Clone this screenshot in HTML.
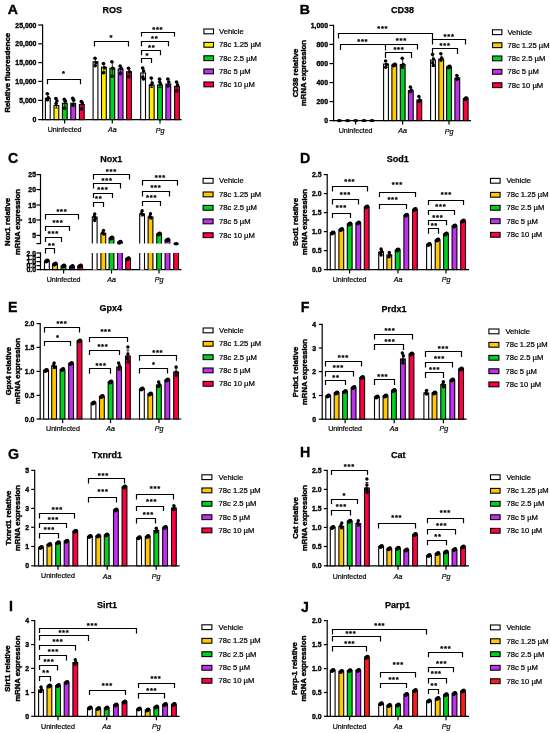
<!DOCTYPE html>
<html lang="en"><head><meta charset="utf-8"><title>Figure</title>
<style>
html,body{margin:0;padding:0;background:#fff;}
body{width:550px;height:733px;overflow:hidden;}
svg{display:block;font-family:'Liberation Sans', Arial, Helvetica, sans-serif;}
svg text{fill:#000;}
</style></head><body>
<svg width="550" height="733" viewBox="0 0 550 733">
<rect x="0" y="0" width="550" height="733" fill="#fff"/>
<text transform="translate(7.7 13.9) scale(1.1 1)" font-size="12.8" font-weight="bold" stroke="#000" stroke-width="0.4">A</text>
<text x="112.3" y="12.5" font-size="9.0" font-weight="bold" text-anchor="middle" stroke="#000" stroke-width="0.25">ROS</text>
<line x1="42.6" y1="24.4" x2="42.6" y2="120.2" stroke="#000" stroke-width="1.2"/>
<line x1="38.2" y1="25" x2="42.6" y2="25" stroke="#000" stroke-width="1.2"/>
<text x="36.4" y="27.5" font-size="6.9" font-weight="bold" text-anchor="end" stroke="#000" stroke-width="0.35">25,000</text>
<line x1="38.2" y1="43.8" x2="42.6" y2="43.8" stroke="#000" stroke-width="1.2"/>
<text x="36.4" y="46.3" font-size="6.9" font-weight="bold" text-anchor="end" stroke="#000" stroke-width="0.35">20,000</text>
<line x1="38.2" y1="62.6" x2="42.6" y2="62.6" stroke="#000" stroke-width="1.2"/>
<text x="36.4" y="65.1" font-size="6.9" font-weight="bold" text-anchor="end" stroke="#000" stroke-width="0.35">15,000</text>
<line x1="38.2" y1="81.4" x2="42.6" y2="81.4" stroke="#000" stroke-width="1.2"/>
<text x="36.4" y="83.9" font-size="6.9" font-weight="bold" text-anchor="end" stroke="#000" stroke-width="0.35">10,000</text>
<line x1="38.2" y1="100.4" x2="42.6" y2="100.4" stroke="#000" stroke-width="1.2"/>
<text x="36.4" y="102.9" font-size="6.9" font-weight="bold" text-anchor="end" stroke="#000" stroke-width="0.35">5,000</text>
<line x1="38.2" y1="119.6" x2="42.6" y2="119.6" stroke="#000" stroke-width="1.2"/>
<text x="36.4" y="122.1" font-size="6.9" font-weight="bold" text-anchor="end" stroke="#000" stroke-width="0.35">0</text>
<text x="10.1" y="72.8" font-size="7.7" font-weight="bold" text-anchor="middle" transform="rotate(-90 10.1 72.8)" stroke="#000" stroke-width="0.4">Relative fluoresdence</text>
<line x1="42" y1="119.6" x2="181.6" y2="119.6" stroke="#000" stroke-width="1.2"/>
<line x1="64.6" y1="119.6" x2="64.6" y2="123.6" stroke="#000" stroke-width="1.2"/>
<line x1="112.3" y1="119.6" x2="112.3" y2="123.6" stroke="#000" stroke-width="1.2"/>
<line x1="160" y1="119.6" x2="160" y2="123.6" stroke="#000" stroke-width="1.2"/>
<rect x="45.4" y="98.2" width="4.8" height="21.4" fill="#ffffff" stroke="#000" stroke-width="1.1"/>
<rect x="54" y="105.5" width="4.8" height="14.1" fill="#fff000" stroke="#000" stroke-width="1.1"/>
<rect x="62.4" y="103.3" width="4.8" height="16.3" fill="#00d020" stroke="#000" stroke-width="1.1"/>
<rect x="70.8" y="103.3" width="4.8" height="16.3" fill="#c030f0" stroke="#000" stroke-width="1.1"/>
<rect x="79.4" y="104.5" width="4.8" height="15.1" fill="#ff0040" stroke="#000" stroke-width="1.1"/>
<rect x="93.1" y="61.8" width="4.8" height="57.8" fill="#ffffff" stroke="#000" stroke-width="1.1"/>
<rect x="101.5" y="67.3" width="4.8" height="52.3" fill="#fff000" stroke="#000" stroke-width="1.1"/>
<rect x="109.9" y="68.2" width="4.8" height="51.4" fill="#00d020" stroke="#000" stroke-width="1.1"/>
<rect x="118.2" y="69" width="4.8" height="50.6" fill="#c030f0" stroke="#000" stroke-width="1.1"/>
<rect x="126.6" y="71.8" width="4.8" height="47.8" fill="#ff0040" stroke="#000" stroke-width="1.1"/>
<rect x="140.7" y="73" width="4.8" height="46.6" fill="#ffffff" stroke="#000" stroke-width="1.1"/>
<rect x="149.3" y="85" width="4.8" height="34.6" fill="#fff000" stroke="#000" stroke-width="1.1"/>
<rect x="157.6" y="85" width="4.8" height="34.6" fill="#00d020" stroke="#000" stroke-width="1.1"/>
<rect x="165.9" y="84" width="4.8" height="35.6" fill="#c030f0" stroke="#000" stroke-width="1.1"/>
<rect x="174.6" y="86.4" width="4.8" height="33.2" fill="#ff0040" stroke="#000" stroke-width="1.1"/>
<line x1="47.8" y1="94.3" x2="47.8" y2="100.7" stroke="#000" stroke-width="0.8"/>
<line x1="46.3" y1="94.3" x2="49.3" y2="94.3" stroke="#000" stroke-width="0.8"/>
<line x1="46.3" y1="100.7" x2="49.3" y2="100.7" stroke="#000" stroke-width="0.8"/>
<circle cx="47.3" cy="93.8" r="1.8" fill="#000"/>
<circle cx="48.3" cy="97.8" r="1.8" fill="#000"/>
<circle cx="47.5" cy="99.7" r="1.8" fill="#000"/>
<line x1="56.4" y1="99" x2="56.4" y2="108" stroke="#000" stroke-width="0.8"/>
<line x1="54.9" y1="99" x2="57.9" y2="99" stroke="#000" stroke-width="0.8"/>
<line x1="54.9" y1="108" x2="57.9" y2="108" stroke="#000" stroke-width="0.8"/>
<circle cx="55.9" cy="98.5" r="1.8" fill="#000"/>
<circle cx="56.9" cy="101" r="1.8" fill="#000"/>
<circle cx="56.1" cy="103.5" r="1.8" fill="#000"/>
<line x1="64.8" y1="99.8" x2="64.8" y2="107.8" stroke="#000" stroke-width="0.8"/>
<line x1="63.3" y1="99.8" x2="66.3" y2="99.8" stroke="#000" stroke-width="0.8"/>
<line x1="63.3" y1="107.8" x2="66.3" y2="107.8" stroke="#000" stroke-width="0.8"/>
<circle cx="64.3" cy="99.3" r="1.8" fill="#000"/>
<circle cx="65.3" cy="101.3" r="1.8" fill="#000"/>
<circle cx="64.5" cy="108.3" r="1.8" fill="#000"/>
<line x1="73.2" y1="98.8" x2="73.2" y2="105.8" stroke="#000" stroke-width="0.8"/>
<line x1="71.7" y1="98.8" x2="74.7" y2="98.8" stroke="#000" stroke-width="0.8"/>
<line x1="71.7" y1="105.8" x2="74.7" y2="105.8" stroke="#000" stroke-width="0.8"/>
<circle cx="72.7" cy="98.3" r="1.8" fill="#000"/>
<circle cx="73.7" cy="100.3" r="1.8" fill="#000"/>
<circle cx="72.9" cy="105.3" r="1.8" fill="#000"/>
<line x1="81.8" y1="102" x2="81.8" y2="108.5" stroke="#000" stroke-width="0.8"/>
<line x1="80.3" y1="102" x2="83.3" y2="102" stroke="#000" stroke-width="0.8"/>
<line x1="80.3" y1="108.5" x2="83.3" y2="108.5" stroke="#000" stroke-width="0.8"/>
<circle cx="81.3" cy="101.5" r="1.8" fill="#000"/>
<circle cx="82.3" cy="103" r="1.8" fill="#000"/>
<circle cx="81.5" cy="109" r="1.8" fill="#000"/>
<line x1="95.5" y1="58.7" x2="95.5" y2="65.3" stroke="#000" stroke-width="0.8"/>
<line x1="94" y1="58.7" x2="97" y2="58.7" stroke="#000" stroke-width="0.8"/>
<line x1="94" y1="65.3" x2="97" y2="65.3" stroke="#000" stroke-width="0.8"/>
<circle cx="95" cy="58.2" r="1.8" fill="#000"/>
<circle cx="96" cy="62.8" r="1.8" fill="#000"/>
<circle cx="95.2" cy="65.8" r="1.8" fill="#000"/>
<line x1="103.9" y1="64.1" x2="103.9" y2="72.2" stroke="#000" stroke-width="0.8"/>
<line x1="102.4" y1="64.1" x2="105.4" y2="64.1" stroke="#000" stroke-width="0.8"/>
<line x1="102.4" y1="72.2" x2="105.4" y2="72.2" stroke="#000" stroke-width="0.8"/>
<circle cx="103.4" cy="63.6" r="1.8" fill="#000"/>
<circle cx="104.4" cy="67.8" r="1.8" fill="#000"/>
<circle cx="103.6" cy="72.7" r="1.8" fill="#000"/>
<line x1="112.3" y1="62.3" x2="112.3" y2="75.7" stroke="#000" stroke-width="0.8"/>
<line x1="110.8" y1="62.3" x2="113.8" y2="62.3" stroke="#000" stroke-width="0.8"/>
<line x1="110.8" y1="75.7" x2="113.8" y2="75.7" stroke="#000" stroke-width="0.8"/>
<circle cx="111.8" cy="61.8" r="1.8" fill="#000"/>
<circle cx="112.8" cy="68.2" r="1.8" fill="#000"/>
<circle cx="112" cy="76.2" r="1.8" fill="#000"/>
<line x1="120.6" y1="66.5" x2="120.6" y2="73.1" stroke="#000" stroke-width="0.8"/>
<line x1="119.1" y1="66.5" x2="122.1" y2="66.5" stroke="#000" stroke-width="0.8"/>
<line x1="119.1" y1="73.1" x2="122.1" y2="73.1" stroke="#000" stroke-width="0.8"/>
<circle cx="120.1" cy="66" r="1.8" fill="#000"/>
<circle cx="121.1" cy="68.2" r="1.8" fill="#000"/>
<circle cx="120.3" cy="73.6" r="1.8" fill="#000"/>
<line x1="129" y1="68.7" x2="129" y2="76.3" stroke="#000" stroke-width="0.8"/>
<line x1="127.5" y1="68.7" x2="130.5" y2="68.7" stroke="#000" stroke-width="0.8"/>
<line x1="127.5" y1="76.3" x2="130.5" y2="76.3" stroke="#000" stroke-width="0.8"/>
<circle cx="128.5" cy="68.2" r="1.8" fill="#000"/>
<circle cx="129.5" cy="71.8" r="1.8" fill="#000"/>
<circle cx="128.7" cy="76.8" r="1.8" fill="#000"/>
<line x1="143.1" y1="68.5" x2="143.1" y2="78.5" stroke="#000" stroke-width="0.8"/>
<line x1="141.6" y1="68.5" x2="144.6" y2="68.5" stroke="#000" stroke-width="0.8"/>
<line x1="141.6" y1="78.5" x2="144.6" y2="78.5" stroke="#000" stroke-width="0.8"/>
<circle cx="142.6" cy="68" r="1.8" fill="#000"/>
<circle cx="143.6" cy="71" r="1.8" fill="#000"/>
<circle cx="142.8" cy="77" r="1.8" fill="#000"/>
<circle cx="143.5" cy="79" r="1.8" fill="#000"/>
<line x1="151.7" y1="78.5" x2="151.7" y2="87.5" stroke="#000" stroke-width="0.8"/>
<line x1="150.2" y1="78.5" x2="153.2" y2="78.5" stroke="#000" stroke-width="0.8"/>
<line x1="150.2" y1="87.5" x2="153.2" y2="87.5" stroke="#000" stroke-width="0.8"/>
<circle cx="151.2" cy="78" r="1.8" fill="#000"/>
<circle cx="152.2" cy="83" r="1.8" fill="#000"/>
<circle cx="151.4" cy="85" r="1.8" fill="#000"/>
<line x1="160" y1="79.5" x2="160" y2="87.5" stroke="#000" stroke-width="0.8"/>
<line x1="158.5" y1="79.5" x2="161.5" y2="79.5" stroke="#000" stroke-width="0.8"/>
<line x1="158.5" y1="87.5" x2="161.5" y2="87.5" stroke="#000" stroke-width="0.8"/>
<circle cx="159.5" cy="79" r="1.8" fill="#000"/>
<circle cx="160.5" cy="84" r="1.8" fill="#000"/>
<circle cx="159.7" cy="82" r="1.8" fill="#000"/>
<line x1="168.3" y1="79.5" x2="168.3" y2="86.5" stroke="#000" stroke-width="0.8"/>
<line x1="166.8" y1="79.5" x2="169.8" y2="79.5" stroke="#000" stroke-width="0.8"/>
<line x1="166.8" y1="86.5" x2="169.8" y2="86.5" stroke="#000" stroke-width="0.8"/>
<circle cx="167.8" cy="79" r="1.8" fill="#000"/>
<circle cx="168.8" cy="82" r="1.8" fill="#000"/>
<circle cx="168" cy="86" r="1.8" fill="#000"/>
<line x1="177" y1="82.5" x2="177" y2="90.5" stroke="#000" stroke-width="0.8"/>
<line x1="175.5" y1="82.5" x2="178.5" y2="82.5" stroke="#000" stroke-width="0.8"/>
<line x1="175.5" y1="90.5" x2="178.5" y2="90.5" stroke="#000" stroke-width="0.8"/>
<circle cx="176.5" cy="82" r="1.8" fill="#000"/>
<circle cx="177.5" cy="85" r="1.8" fill="#000"/>
<circle cx="176.7" cy="91" r="1.8" fill="#000"/>
<path d="M47.5 84.2V79.5H80.5V84.2" stroke="#000" stroke-width="1.2" fill="none"/>
<text x="63.98" y="76.42" font-size="7.6" font-weight="bold" text-anchor="middle" stroke="#000" stroke-width="0.25" letter-spacing="0.75">*</text>
<path d="M94.5 46.6V41.5H128.5V46.6" stroke="#000" stroke-width="1.2" fill="none"/>
<text x="111.38" y="40.42" font-size="7.6" font-weight="bold" text-anchor="middle" stroke="#000" stroke-width="0.25" letter-spacing="0.75">*</text>
<path d="M141.5 36.6V32.5H174.5V36.6" stroke="#000" stroke-width="1.2" fill="none"/>
<text x="157.78" y="31.82" font-size="7.6" font-weight="bold" text-anchor="middle" stroke="#000" stroke-width="0.25" letter-spacing="0.75">***</text>
<path d="M141.5 46.2V41.5H168.5V46.2" stroke="#000" stroke-width="1.2" fill="none"/>
<text x="154.78" y="40.62" font-size="7.6" font-weight="bold" text-anchor="middle" stroke="#000" stroke-width="0.25" letter-spacing="0.75">**</text>
<path d="M141.5 55.2V50.5H160.5V55.2" stroke="#000" stroke-width="1.2" fill="none"/>
<text x="151.78" y="49.82" font-size="7.6" font-weight="bold" text-anchor="middle" stroke="#000" stroke-width="0.25" letter-spacing="0.75">**</text>
<path d="M141.5 63V58.5H151.5V63" stroke="#000" stroke-width="1.2" fill="none"/>
<text x="147.38" y="58.22" font-size="7.6" font-weight="bold" text-anchor="middle" stroke="#000" stroke-width="0.25" letter-spacing="0.75">*</text>
<text x="64.6" y="132.1" font-size="7.1" text-anchor="middle" stroke="#000" stroke-width="0.2">Uninfected</text>
<text x="112.3" y="132.3" font-size="7.1" font-style="italic" text-anchor="middle" stroke="#000" stroke-width="0.2">Aa</text>
<text x="160" y="132.5" font-size="7.1" font-style="italic" text-anchor="middle" stroke="#000" stroke-width="0.2">Pg</text>
<rect x="203.9" y="29" width="9.6" height="4.8" fill="#ffffff" stroke="#000" stroke-width="1.1"/>
<text x="219" y="34.05" font-size="7.65" stroke="#000" stroke-width="0.22">Vehicle</text>
<rect x="203.9" y="42.4" width="9.6" height="4.8" fill="#fff000" stroke="#000" stroke-width="1.1"/>
<text x="219" y="47.45" font-size="7.65" stroke="#000" stroke-width="0.22">78c 1.25 µM</text>
<rect x="203.9" y="55.8" width="9.6" height="4.8" fill="#00d020" stroke="#000" stroke-width="1.1"/>
<text x="219" y="60.85" font-size="7.65" stroke="#000" stroke-width="0.22">78c 2.5 µM</text>
<rect x="203.9" y="69" width="9.6" height="4.8" fill="#c030f0" stroke="#000" stroke-width="1.1"/>
<text x="219" y="74.05" font-size="7.65" stroke="#000" stroke-width="0.22">78c 5 µM</text>
<rect x="203.9" y="82" width="9.6" height="4.8" fill="#ff0040" stroke="#000" stroke-width="1.1"/>
<text x="219" y="87.05" font-size="7.65" stroke="#000" stroke-width="0.22">78c 10 µM</text>
<text transform="translate(299.7 13.9) scale(1.1 1)" font-size="12.8" font-weight="bold" stroke="#000" stroke-width="0.4">B</text>
<text x="402.5" y="12.5" font-size="9.0" font-weight="bold" text-anchor="middle" stroke="#000" stroke-width="0.25">CD38</text>
<line x1="333.6" y1="24.8" x2="333.6" y2="121.2" stroke="#000" stroke-width="1.2"/>
<line x1="329.4" y1="25.4" x2="333.6" y2="25.4" stroke="#000" stroke-width="1.2"/>
<text x="328" y="27.9" font-size="6.9" font-weight="bold" text-anchor="end" stroke="#000" stroke-width="0.35">1,000</text>
<line x1="329.4" y1="44.4" x2="333.6" y2="44.4" stroke="#000" stroke-width="1.2"/>
<text x="328" y="46.9" font-size="6.9" font-weight="bold" text-anchor="end" stroke="#000" stroke-width="0.35">800</text>
<line x1="329.4" y1="63.6" x2="333.6" y2="63.6" stroke="#000" stroke-width="1.2"/>
<text x="328" y="66.1" font-size="6.9" font-weight="bold" text-anchor="end" stroke="#000" stroke-width="0.35">600</text>
<line x1="329.4" y1="82.6" x2="333.6" y2="82.6" stroke="#000" stroke-width="1.2"/>
<text x="328" y="85.1" font-size="6.9" font-weight="bold" text-anchor="end" stroke="#000" stroke-width="0.35">400</text>
<line x1="329.4" y1="101.6" x2="333.6" y2="101.6" stroke="#000" stroke-width="1.2"/>
<text x="328" y="104.1" font-size="6.9" font-weight="bold" text-anchor="end" stroke="#000" stroke-width="0.35">200</text>
<line x1="329.4" y1="120.6" x2="333.6" y2="120.6" stroke="#000" stroke-width="1.2"/>
<text x="328" y="123.1" font-size="6.9" font-weight="bold" text-anchor="end" stroke="#000" stroke-width="0.35">0</text>
<text x="297.5" y="73" font-size="7.7" font-weight="bold" text-anchor="middle" transform="rotate(-90 297.5 73)" stroke="#000" stroke-width="0.4">CD38 relative</text>
<text x="306.3" y="73" font-size="7.7" font-weight="bold" text-anchor="middle" transform="rotate(-90 306.3 73)" stroke="#000" stroke-width="0.4">mRNA expression</text>
<line x1="333" y1="120.6" x2="471" y2="120.6" stroke="#000" stroke-width="1.2"/>
<line x1="355.6" y1="120.6" x2="355.6" y2="124.6" stroke="#000" stroke-width="1.2"/>
<line x1="402.6" y1="120.6" x2="402.6" y2="124.6" stroke="#000" stroke-width="1.2"/>
<line x1="449" y1="120.6" x2="449" y2="124.6" stroke="#000" stroke-width="1.2"/>
<rect x="383.6" y="64" width="4.8" height="56.6" fill="#ffffff" stroke="#000" stroke-width="1.1"/>
<rect x="391.9" y="65" width="4.8" height="55.6" fill="#ffc800" stroke="#000" stroke-width="1.1"/>
<rect x="400.3" y="64.5" width="4.8" height="56.1" fill="#00d020" stroke="#000" stroke-width="1.1"/>
<rect x="408.4" y="90.5" width="4.8" height="30.1" fill="#c030f0" stroke="#000" stroke-width="1.1"/>
<rect x="416.9" y="100" width="4.8" height="20.6" fill="#ff0040" stroke="#000" stroke-width="1.1"/>
<rect x="430.6" y="60" width="4.8" height="60.6" fill="#ffffff" stroke="#000" stroke-width="1.1"/>
<rect x="438.8" y="59" width="4.8" height="61.6" fill="#ffc800" stroke="#000" stroke-width="1.1"/>
<rect x="446.6" y="67" width="4.8" height="53.6" fill="#00d020" stroke="#000" stroke-width="1.1"/>
<rect x="454.9" y="78" width="4.8" height="42.6" fill="#c030f0" stroke="#000" stroke-width="1.1"/>
<rect x="463.3" y="98.7" width="4.8" height="21.9" fill="#ff0040" stroke="#000" stroke-width="1.1"/>
<line x1="386" y1="60.7" x2="386" y2="67.3" stroke="#000" stroke-width="0.8"/>
<line x1="384.5" y1="60.7" x2="387.5" y2="60.7" stroke="#000" stroke-width="0.8"/>
<line x1="384.5" y1="67.3" x2="387.5" y2="67.3" stroke="#000" stroke-width="0.8"/>
<circle cx="385.5" cy="60.9" r="1.7" fill="#000"/>
<circle cx="386.5" cy="64.5" r="1.7" fill="#000"/>
<circle cx="385.7" cy="67.3" r="1.7" fill="#000"/>
<circle cx="393.6" cy="65.5" r="2.0" fill="#000"/>
<circle cx="395" cy="64.5" r="2.0" fill="#000"/>
<circle cx="394.3" cy="64.8" r="2.0" fill="#000"/>
<line x1="402.7" y1="58.5" x2="402.7" y2="68.5" stroke="#000" stroke-width="0.8"/>
<line x1="401.2" y1="58.5" x2="404.2" y2="58.5" stroke="#000" stroke-width="0.8"/>
<line x1="401.2" y1="68.5" x2="404.2" y2="68.5" stroke="#000" stroke-width="0.8"/>
<circle cx="402.2" cy="58.2" r="1.7" fill="#000"/>
<circle cx="403.2" cy="64.5" r="1.7" fill="#000"/>
<circle cx="402.4" cy="66.5" r="1.7" fill="#000"/>
<line x1="410.8" y1="87.5" x2="410.8" y2="92" stroke="#000" stroke-width="0.8"/>
<line x1="409.3" y1="87.5" x2="412.3" y2="87.5" stroke="#000" stroke-width="0.8"/>
<line x1="409.3" y1="92" x2="412.3" y2="92" stroke="#000" stroke-width="0.8"/>
<circle cx="410.3" cy="87" r="1.7" fill="#000"/>
<circle cx="411.3" cy="90" r="1.7" fill="#000"/>
<circle cx="410.5" cy="91.8" r="1.7" fill="#000"/>
<line x1="419.3" y1="97" x2="419.3" y2="101.5" stroke="#000" stroke-width="0.8"/>
<line x1="417.8" y1="97" x2="420.8" y2="97" stroke="#000" stroke-width="0.8"/>
<line x1="417.8" y1="101.5" x2="420.8" y2="101.5" stroke="#000" stroke-width="0.8"/>
<circle cx="418.8" cy="96.4" r="1.7" fill="#000"/>
<circle cx="419.8" cy="100" r="1.7" fill="#000"/>
<circle cx="419" cy="101.5" r="1.7" fill="#000"/>
<line x1="433" y1="54" x2="433" y2="66" stroke="#000" stroke-width="0.8"/>
<line x1="431.5" y1="54" x2="434.5" y2="54" stroke="#000" stroke-width="0.8"/>
<line x1="431.5" y1="66" x2="434.5" y2="66" stroke="#000" stroke-width="0.8"/>
<circle cx="432.5" cy="54.5" r="1.7" fill="#000"/>
<circle cx="433.5" cy="59" r="1.7" fill="#000"/>
<circle cx="432.7" cy="62.7" r="1.7" fill="#000"/>
<circle cx="433.4" cy="65.5" r="1.7" fill="#000"/>
<line x1="441.2" y1="54" x2="441.2" y2="61" stroke="#000" stroke-width="0.8"/>
<line x1="439.7" y1="54" x2="442.7" y2="54" stroke="#000" stroke-width="0.8"/>
<line x1="439.7" y1="61" x2="442.7" y2="61" stroke="#000" stroke-width="0.8"/>
<circle cx="440.7" cy="53.6" r="1.7" fill="#000"/>
<circle cx="441.7" cy="58" r="1.7" fill="#000"/>
<circle cx="440.9" cy="60" r="1.7" fill="#000"/>
<circle cx="448.3" cy="67.5" r="2.0" fill="#000"/>
<circle cx="449.7" cy="66.5" r="2.0" fill="#000"/>
<circle cx="449" cy="66.8" r="2.0" fill="#000"/>
<line x1="457.3" y1="75.5" x2="457.3" y2="79.5" stroke="#000" stroke-width="0.8"/>
<line x1="455.8" y1="75.5" x2="458.8" y2="75.5" stroke="#000" stroke-width="0.8"/>
<line x1="455.8" y1="79.5" x2="458.8" y2="79.5" stroke="#000" stroke-width="0.8"/>
<circle cx="456.8" cy="75.5" r="1.7" fill="#000"/>
<circle cx="457.8" cy="78.2" r="1.7" fill="#000"/>
<circle cx="457" cy="79.5" r="1.7" fill="#000"/>
<circle cx="465" cy="99.2" r="2.0" fill="#000"/>
<circle cx="466.4" cy="98.2" r="2.0" fill="#000"/>
<circle cx="465.7" cy="98.5" r="2.0" fill="#000"/>
<ellipse cx="339.4" cy="120.6" rx="2.7" ry="1.7" fill="#000"/>
<ellipse cx="347.6" cy="120.6" rx="2.7" ry="1.7" fill="#000"/>
<ellipse cx="355.6" cy="120.6" rx="2.7" ry="1.7" fill="#000"/>
<ellipse cx="364" cy="120.6" rx="2.7" ry="1.7" fill="#000"/>
<ellipse cx="372" cy="120.6" rx="2.7" ry="1.7" fill="#000"/>
<path d="M338.5 38.4V33.5H432.5V44.4" stroke="#000" stroke-width="1.2" fill="none"/>
<text x="382.77" y="31.22" font-size="7.6" font-weight="bold" text-anchor="middle" stroke="#000" stroke-width="0.25" letter-spacing="0.75">***</text>
<path d="M340.5 50V44.5H417.5V49.6" stroke="#000" stroke-width="1.2" fill="none"/>
<text x="362.77" y="43.82" font-size="7.6" font-weight="bold" text-anchor="middle" stroke="#000" stroke-width="0.25" letter-spacing="0.75">***</text>
<text x="401.38" y="43.42" font-size="7.6" font-weight="bold" text-anchor="middle" stroke="#000" stroke-width="0.25" letter-spacing="0.75">***</text>
<path d="M385.5 44.5V50.5" stroke="#000" stroke-width="1.2" fill="none"/>
<path d="M385.5 58V52.5H411.5V58" stroke="#000" stroke-width="1.2" fill="none"/>
<text x="398.98" y="52.22" font-size="7.6" font-weight="bold" text-anchor="middle" stroke="#000" stroke-width="0.25" letter-spacing="0.75">***</text>
<path d="M432.5 39.5H465.5V44.6" stroke="#000" stroke-width="1.2" fill="none"/>
<text x="449.07" y="38.82" font-size="7.6" font-weight="bold" text-anchor="middle" stroke="#000" stroke-width="0.25" letter-spacing="0.75">***</text>
<path d="M432.5 54V48.5H457.5V54" stroke="#000" stroke-width="1.2" fill="none"/>
<text x="445.18" y="48.42" font-size="7.6" font-weight="bold" text-anchor="middle" stroke="#000" stroke-width="0.25" letter-spacing="0.75">***</text>
<text x="355.6" y="133.1" font-size="7.1" text-anchor="middle" stroke="#000" stroke-width="0.2">Uninfected</text>
<text x="402.6" y="133.1" font-size="7.1" font-style="italic" text-anchor="middle" stroke="#000" stroke-width="0.2">Aa</text>
<text x="449" y="133.5" font-size="7.1" font-style="italic" text-anchor="middle" stroke="#000" stroke-width="0.2">Pg</text>
<rect x="492.5" y="29.8" width="9.4" height="4.8" fill="#ffffff" stroke="#000" stroke-width="1.1"/>
<text x="507.4" y="34.85" font-size="7.65" stroke="#000" stroke-width="0.22">Vehicle</text>
<rect x="492.5" y="42.8" width="9.4" height="4.8" fill="#ffc800" stroke="#000" stroke-width="1.1"/>
<text x="507.4" y="47.85" font-size="7.65" stroke="#000" stroke-width="0.22">78c 1.25 µM</text>
<rect x="492.5" y="56" width="9.4" height="4.8" fill="#00d020" stroke="#000" stroke-width="1.1"/>
<text x="507.4" y="61.05" font-size="7.65" stroke="#000" stroke-width="0.22">78c 2.5 µM</text>
<rect x="492.5" y="69.4" width="9.4" height="4.8" fill="#c030f0" stroke="#000" stroke-width="1.1"/>
<text x="507.4" y="74.45" font-size="7.65" stroke="#000" stroke-width="0.22">78c 5 µM</text>
<rect x="492.5" y="82.8" width="9.4" height="4.8" fill="#ff0040" stroke="#000" stroke-width="1.1"/>
<text x="507.4" y="87.85" font-size="7.65" stroke="#000" stroke-width="0.22">78c 10 µM</text>
<text x="8" y="162.7" font-size="14.2" font-weight="bold" stroke="#000" stroke-width="0.3">C</text>
<text x="111.3" y="162" font-size="9.0" font-weight="bold" text-anchor="middle" stroke="#000" stroke-width="0.25">Nox1</text>
<line x1="40.5" y1="174" x2="40.5" y2="244.2" stroke="#000" stroke-width="1.2"/>
<line x1="36.5" y1="174.6" x2="40.5" y2="174.6" stroke="#000" stroke-width="1.2"/>
<text x="36" y="177.1" font-size="6.9" font-weight="bold" text-anchor="end" stroke="#000" stroke-width="0.35">25</text>
<line x1="36.5" y1="189.6" x2="40.5" y2="189.6" stroke="#000" stroke-width="1.2"/>
<text x="36" y="192.1" font-size="6.9" font-weight="bold" text-anchor="end" stroke="#000" stroke-width="0.35">20</text>
<line x1="36.5" y1="205" x2="40.5" y2="205" stroke="#000" stroke-width="1.2"/>
<text x="36" y="207.5" font-size="6.9" font-weight="bold" text-anchor="end" stroke="#000" stroke-width="0.35">15</text>
<line x1="36.5" y1="220" x2="40.5" y2="220" stroke="#000" stroke-width="1.2"/>
<text x="36" y="222.5" font-size="6.9" font-weight="bold" text-anchor="end" stroke="#000" stroke-width="0.35">10</text>
<line x1="36.5" y1="235.4" x2="40.5" y2="235.4" stroke="#000" stroke-width="1.2"/>
<text x="36" y="237.9" font-size="6.9" font-weight="bold" text-anchor="end" stroke="#000" stroke-width="0.35">5</text>
<line x1="36.5" y1="243.6" x2="40.5" y2="243.6" stroke="#000" stroke-width="1.2"/>
<line x1="40.5" y1="252.4" x2="40.5" y2="270.2" stroke="#000" stroke-width="1.2"/>
<line x1="36.5" y1="253" x2="40.5" y2="253" stroke="#000" stroke-width="1.2"/>
<text x="36" y="255.5" font-size="6.9" font-weight="bold" text-anchor="end" stroke="#000" stroke-width="0.35">2.0</text>
<line x1="36.5" y1="257.4" x2="40.5" y2="257.4" stroke="#000" stroke-width="1.2"/>
<text x="36" y="259.9" font-size="6.9" font-weight="bold" text-anchor="end" stroke="#000" stroke-width="0.35">1.5</text>
<line x1="36.5" y1="261.6" x2="40.5" y2="261.6" stroke="#000" stroke-width="1.2"/>
<text x="36" y="264.1" font-size="6.9" font-weight="bold" text-anchor="end" stroke="#000" stroke-width="0.35">1.0</text>
<line x1="36.5" y1="265.6" x2="40.5" y2="265.6" stroke="#000" stroke-width="1.2"/>
<text x="36" y="268.1" font-size="6.9" font-weight="bold" text-anchor="end" stroke="#000" stroke-width="0.35">0.5</text>
<line x1="36.5" y1="269.6" x2="40.5" y2="269.6" stroke="#000" stroke-width="1.2"/>
<text x="36" y="272.1" font-size="6.9" font-weight="bold" text-anchor="end" stroke="#000" stroke-width="0.35">0.0</text>
<text x="10" y="222" font-size="7.7" font-weight="bold" text-anchor="middle" transform="rotate(-90 10 222)" stroke="#000" stroke-width="0.4">Nox1 relative</text>
<text x="19.7" y="222" font-size="7.7" font-weight="bold" text-anchor="middle" transform="rotate(-90 19.7 222)" stroke="#000" stroke-width="0.4">mRNA expression</text>
<line x1="39.9" y1="269.6" x2="181.4" y2="269.6" stroke="#000" stroke-width="1.2"/>
<line x1="63.6" y1="269.6" x2="63.6" y2="273.6" stroke="#000" stroke-width="1.2"/>
<line x1="111.5" y1="269.6" x2="111.5" y2="273.6" stroke="#000" stroke-width="1.2"/>
<line x1="159" y1="269.6" x2="159" y2="273.6" stroke="#000" stroke-width="1.2"/>
<rect x="44.5" y="261" width="4.8" height="8.6" fill="#ffffff" stroke="#000" stroke-width="1.1"/>
<rect x="52.6" y="264" width="4.8" height="5.6" fill="#ffc800" stroke="#000" stroke-width="1.1"/>
<rect x="61.1" y="266" width="4.8" height="3.6" fill="#00d020" stroke="#000" stroke-width="1.1"/>
<rect x="69.6" y="266.6" width="4.8" height="3" fill="#c030f0" stroke="#000" stroke-width="1.1"/>
<rect x="77.8" y="266" width="4.8" height="3.6" fill="#ff0040" stroke="#000" stroke-width="1.1"/>
<circle cx="46.2" cy="261.5" r="2.0" fill="#000"/>
<circle cx="47.6" cy="260.5" r="2.0" fill="#000"/>
<circle cx="46.9" cy="260.8" r="2.0" fill="#000"/>
<circle cx="54.3" cy="264.5" r="2.0" fill="#000"/>
<circle cx="55.7" cy="263.5" r="2.0" fill="#000"/>
<circle cx="55" cy="263.8" r="2.0" fill="#000"/>
<circle cx="62.8" cy="266.5" r="2.0" fill="#000"/>
<circle cx="64.2" cy="265.5" r="2.0" fill="#000"/>
<circle cx="63.5" cy="265.8" r="2.0" fill="#000"/>
<circle cx="71.3" cy="267.1" r="2.0" fill="#000"/>
<circle cx="72.7" cy="266.1" r="2.0" fill="#000"/>
<circle cx="72" cy="266.4" r="2.0" fill="#000"/>
<circle cx="79.5" cy="266.5" r="2.0" fill="#000"/>
<circle cx="80.9" cy="265.5" r="2.0" fill="#000"/>
<circle cx="80.2" cy="265.8" r="2.0" fill="#000"/>
<rect x="92.3" y="253" width="4.8" height="16.6" fill="#ffffff"/>
<path d="M92.3 253V269.6M97.1 253V269.6" stroke="#000" stroke-width="1.1" fill="none"/>
<rect x="92.3" y="217" width="4.8" height="26.6" fill="#ffffff"/>
<path d="M92.3 243.6V217H97.1V243.6" stroke="#000" stroke-width="1.1" fill="none"/>
<rect x="100.9" y="253" width="4.8" height="16.6" fill="#ffc800"/>
<path d="M100.9 253V269.6M105.7 253V269.6" stroke="#000" stroke-width="1.1" fill="none"/>
<rect x="100.9" y="233.4" width="4.8" height="10.2" fill="#ffc800"/>
<path d="M100.9 243.6V233.4H105.7V243.6" stroke="#000" stroke-width="1.1" fill="none"/>
<rect x="109.1" y="253" width="4.8" height="16.6" fill="#00d020"/>
<path d="M109.1 253V269.6M113.9 253V269.6" stroke="#000" stroke-width="1.1" fill="none"/>
<rect x="109.1" y="238" width="4.8" height="5.6" fill="#00d020"/>
<path d="M109.1 243.6V238H113.9V243.6" stroke="#000" stroke-width="1.1" fill="none"/>
<rect x="117.5" y="253" width="4.8" height="16.6" fill="#c030f0"/>
<path d="M117.5 253V269.6M122.3 253V269.6" stroke="#000" stroke-width="1.1" fill="none"/>
<rect x="117.5" y="242.2" width="4.8" height="1.4" fill="#c030f0"/>
<path d="M117.5 243.6V242.2H122.3V243.6" stroke="#000" stroke-width="1.1" fill="none"/>
<rect x="125.7" y="258.7" width="4.8" height="10.9" fill="#ff0040" stroke="#000" stroke-width="1.1"/>
<rect x="139.7" y="253" width="4.8" height="16.6" fill="#ffffff"/>
<path d="M139.7 253V269.6M144.5 253V269.6" stroke="#000" stroke-width="1.1" fill="none"/>
<rect x="139.7" y="214" width="4.8" height="29.6" fill="#ffffff"/>
<path d="M139.7 243.6V214H144.5V243.6" stroke="#000" stroke-width="1.1" fill="none"/>
<rect x="148.1" y="253" width="4.8" height="16.6" fill="#ffc800"/>
<path d="M148.1 253V269.6M152.9 253V269.6" stroke="#000" stroke-width="1.1" fill="none"/>
<rect x="148.1" y="217" width="4.8" height="26.6" fill="#ffc800"/>
<path d="M148.1 243.6V217H152.9V243.6" stroke="#000" stroke-width="1.1" fill="none"/>
<rect x="156.7" y="253" width="4.8" height="16.6" fill="#00d020"/>
<path d="M156.7 253V269.6M161.5 253V269.6" stroke="#000" stroke-width="1.1" fill="none"/>
<rect x="156.7" y="234" width="4.8" height="9.6" fill="#00d020"/>
<path d="M156.7 243.6V234H161.5V243.6" stroke="#000" stroke-width="1.1" fill="none"/>
<rect x="165.1" y="253" width="4.8" height="16.6" fill="#c030f0"/>
<path d="M165.1 253V269.6M169.9 253V269.6" stroke="#000" stroke-width="1.1" fill="none"/>
<rect x="165.1" y="240" width="4.8" height="3.6" fill="#c030f0"/>
<path d="M165.1 243.6V240H169.9V243.6" stroke="#000" stroke-width="1.1" fill="none"/>
<rect x="173.7" y="253" width="4.8" height="16.6" fill="#ff0040"/>
<path d="M173.7 253V269.6M178.5 253V269.6" stroke="#000" stroke-width="1.1" fill="none"/>
<line x1="94.7" y1="214.5" x2="94.7" y2="219.5" stroke="#000" stroke-width="0.8"/>
<line x1="93.2" y1="214.5" x2="96.2" y2="214.5" stroke="#000" stroke-width="0.8"/>
<line x1="93.2" y1="219.5" x2="96.2" y2="219.5" stroke="#000" stroke-width="0.8"/>
<circle cx="94.7" cy="214" r="1.7" fill="#000"/>
<circle cx="94.2" cy="216.5" r="1.7" fill="#000"/>
<circle cx="95.2" cy="218.5" r="1.7" fill="#000"/>
<circle cx="94.7" cy="220.5" r="1.7" fill="#000"/>
<line x1="103.3" y1="230.9" x2="103.3" y2="234.4" stroke="#000" stroke-width="0.8"/>
<line x1="101.8" y1="230.9" x2="104.8" y2="230.9" stroke="#000" stroke-width="0.8"/>
<line x1="101.8" y1="234.4" x2="104.8" y2="234.4" stroke="#000" stroke-width="0.8"/>
<circle cx="103.5" cy="230.4" r="1.7" fill="#000"/>
<circle cx="102.8" cy="232.8" r="1.7" fill="#000"/>
<circle cx="103.8" cy="234" r="1.7" fill="#000"/>
<circle cx="110.8" cy="238.5" r="2.0" fill="#000"/>
<circle cx="112.2" cy="237.5" r="2.0" fill="#000"/>
<circle cx="111.5" cy="237.8" r="2.0" fill="#000"/>
<circle cx="119.2" cy="242.7" r="2.0" fill="#000"/>
<circle cx="120.6" cy="241.7" r="2.0" fill="#000"/>
<circle cx="119.9" cy="242" r="2.0" fill="#000"/>
<circle cx="127.4" cy="259.2" r="2.0" fill="#000"/>
<circle cx="128.8" cy="258.2" r="2.0" fill="#000"/>
<circle cx="128.1" cy="258.5" r="2.0" fill="#000"/>
<line x1="142.1" y1="211.5" x2="142.1" y2="216" stroke="#000" stroke-width="0.8"/>
<line x1="140.6" y1="211.5" x2="143.6" y2="211.5" stroke="#000" stroke-width="0.8"/>
<line x1="140.6" y1="216" x2="143.6" y2="216" stroke="#000" stroke-width="0.8"/>
<circle cx="142.1" cy="210.8" r="1.7" fill="#000"/>
<circle cx="141.5" cy="213.5" r="1.7" fill="#000"/>
<circle cx="142.7" cy="214.6" r="1.7" fill="#000"/>
<line x1="150.5" y1="214.5" x2="150.5" y2="219" stroke="#000" stroke-width="0.8"/>
<line x1="149" y1="214.5" x2="152" y2="214.5" stroke="#000" stroke-width="0.8"/>
<line x1="149" y1="219" x2="152" y2="219" stroke="#000" stroke-width="0.8"/>
<circle cx="150.5" cy="213.8" r="1.7" fill="#000"/>
<circle cx="149.9" cy="216.5" r="1.7" fill="#000"/>
<circle cx="151.1" cy="217.6" r="1.7" fill="#000"/>
<circle cx="158.4" cy="234.5" r="2.0" fill="#000"/>
<circle cx="159.8" cy="233.5" r="2.0" fill="#000"/>
<circle cx="159.1" cy="233.8" r="2.0" fill="#000"/>
<circle cx="166.8" cy="240.5" r="2.0" fill="#000"/>
<circle cx="168.2" cy="239.5" r="2.0" fill="#000"/>
<circle cx="167.5" cy="239.8" r="2.0" fill="#000"/>
<ellipse cx="176.1" cy="243.8" rx="2.7" ry="1.7" fill="#000"/>
<path d="M45.5 219.6V214.5H78.5V219.6" stroke="#000" stroke-width="1.2" fill="none"/>
<text x="61.98" y="213.82" font-size="7.6" font-weight="bold" text-anchor="middle" stroke="#000" stroke-width="0.25" letter-spacing="0.75">***</text>
<path d="M45.5 231V226.5H69.5V231" stroke="#000" stroke-width="1.2" fill="none"/>
<text x="57.98" y="225.22" font-size="7.6" font-weight="bold" text-anchor="middle" stroke="#000" stroke-width="0.25" letter-spacing="0.75">***</text>
<path d="M45.5 242V237.5H61.5V242" stroke="#000" stroke-width="1.2" fill="none"/>
<text x="53.38" y="236.22" font-size="7.6" font-weight="bold" text-anchor="middle" stroke="#000" stroke-width="0.25" letter-spacing="0.75">***</text>
<path d="M45.5 253.4V248.5H54.5V253.4" stroke="#000" stroke-width="1.2" fill="none"/>
<text x="51.67" y="248.22" font-size="7.6" font-weight="bold" text-anchor="middle" stroke="#000" stroke-width="0.25" letter-spacing="0.75">**</text>
<path d="M93.5 179.6V174.5H129.5V179.6" stroke="#000" stroke-width="1.2" fill="none"/>
<text x="111.38" y="174.42" font-size="7.6" font-weight="bold" text-anchor="middle" stroke="#000" stroke-width="0.25" letter-spacing="0.75">***</text>
<path d="M93.5 188.6V183.5H120.5V188.6" stroke="#000" stroke-width="1.2" fill="none"/>
<text x="107.08" y="183.02" font-size="7.6" font-weight="bold" text-anchor="middle" stroke="#000" stroke-width="0.25" letter-spacing="0.75">***</text>
<path d="M93.5 198V193.5H112.5V198" stroke="#000" stroke-width="1.2" fill="none"/>
<text x="102.88" y="191.82" font-size="7.6" font-weight="bold" text-anchor="middle" stroke="#000" stroke-width="0.25" letter-spacing="0.75">***</text>
<path d="M93.5 207V202.5H103.5V207" stroke="#000" stroke-width="1.2" fill="none"/>
<text x="98.67" y="201.42" font-size="7.6" font-weight="bold" text-anchor="middle" stroke="#000" stroke-width="0.25" letter-spacing="0.75">**</text>
<path d="M142.5 185.4V180.5H177.5V185.4" stroke="#000" stroke-width="1.2" fill="none"/>
<text x="160.38" y="179.82" font-size="7.6" font-weight="bold" text-anchor="middle" stroke="#000" stroke-width="0.25" letter-spacing="0.75">***</text>
<path d="M142.5 196.6V191.5H169.5V196.6" stroke="#000" stroke-width="1.2" fill="none"/>
<text x="155.97" y="190.42" font-size="7.6" font-weight="bold" text-anchor="middle" stroke="#000" stroke-width="0.25" letter-spacing="0.75">***</text>
<path d="M142.5 206V201.5H160.5V206" stroke="#000" stroke-width="1.2" fill="none"/>
<text x="151.57" y="200.22" font-size="7.6" font-weight="bold" text-anchor="middle" stroke="#000" stroke-width="0.25" letter-spacing="0.75">***</text>
<text x="63.6" y="281.9" font-size="7.1" text-anchor="middle" stroke="#000" stroke-width="0.2">Uninfected</text>
<text x="111.5" y="282.1" font-size="7.1" font-style="italic" text-anchor="middle" stroke="#000" stroke-width="0.2">Aa</text>
<text x="159" y="282.1" font-size="7.1" font-style="italic" text-anchor="middle" stroke="#000" stroke-width="0.2">Pg</text>
<rect x="203.1" y="178.4" width="10" height="4.8" fill="#ffffff" stroke="#000" stroke-width="1.1"/>
<text x="219" y="183.45" font-size="7.65" stroke="#000" stroke-width="0.22">Vehicle</text>
<rect x="203.1" y="192" width="10" height="4.8" fill="#ffc800" stroke="#000" stroke-width="1.1"/>
<text x="219" y="197.05" font-size="7.65" stroke="#000" stroke-width="0.22">78c 1.25 µM</text>
<rect x="203.1" y="205.4" width="10" height="4.8" fill="#00d020" stroke="#000" stroke-width="1.1"/>
<text x="219" y="210.45" font-size="7.65" stroke="#000" stroke-width="0.22">78c 2.5 µM</text>
<rect x="203.1" y="219" width="10" height="4.8" fill="#c030f0" stroke="#000" stroke-width="1.1"/>
<text x="219" y="224.05" font-size="7.65" stroke="#000" stroke-width="0.22">78c 5 µM</text>
<rect x="203.1" y="232.8" width="10" height="4.8" fill="#ff0040" stroke="#000" stroke-width="1.1"/>
<text x="219" y="237.85" font-size="7.65" stroke="#000" stroke-width="0.22">78c 10 µM</text>
<text x="300" y="162.5" font-size="14.2" font-weight="bold" stroke="#000" stroke-width="0.3">D</text>
<text x="397.7" y="162.2" font-size="9.0" font-weight="bold" text-anchor="middle" stroke="#000" stroke-width="0.25">Sod1</text>
<line x1="327.2" y1="174" x2="327.2" y2="270.2" stroke="#000" stroke-width="1.2"/>
<line x1="323.8" y1="174.6" x2="327.2" y2="174.6" stroke="#000" stroke-width="1.2"/>
<text x="321.6" y="177.1" font-size="6.9" font-weight="bold" text-anchor="end" stroke="#000" stroke-width="0.35">2.5</text>
<line x1="323.8" y1="193.6" x2="327.2" y2="193.6" stroke="#000" stroke-width="1.2"/>
<text x="321.6" y="196.1" font-size="6.9" font-weight="bold" text-anchor="end" stroke="#000" stroke-width="0.35">2.0</text>
<line x1="323.8" y1="212.6" x2="327.2" y2="212.6" stroke="#000" stroke-width="1.2"/>
<text x="321.6" y="215.1" font-size="6.9" font-weight="bold" text-anchor="end" stroke="#000" stroke-width="0.35">1.5</text>
<line x1="323.8" y1="231.6" x2="327.2" y2="231.6" stroke="#000" stroke-width="1.2"/>
<text x="321.6" y="234.1" font-size="6.9" font-weight="bold" text-anchor="end" stroke="#000" stroke-width="0.35">1.0</text>
<line x1="323.8" y1="250.6" x2="327.2" y2="250.6" stroke="#000" stroke-width="1.2"/>
<text x="321.6" y="253.1" font-size="6.9" font-weight="bold" text-anchor="end" stroke="#000" stroke-width="0.35">0.5</text>
<line x1="323.8" y1="269.6" x2="327.2" y2="269.6" stroke="#000" stroke-width="1.2"/>
<text x="321.6" y="272.1" font-size="6.9" font-weight="bold" text-anchor="end" stroke="#000" stroke-width="0.35">0.0</text>
<text x="297.5" y="222" font-size="7.7" font-weight="bold" text-anchor="middle" transform="rotate(-90 297.5 222)" stroke="#000" stroke-width="0.4">Sod1 relative</text>
<text x="306.5" y="222" font-size="7.7" font-weight="bold" text-anchor="middle" transform="rotate(-90 306.5 222)" stroke="#000" stroke-width="0.4">mRNA expression</text>
<line x1="326.6" y1="269.6" x2="469" y2="269.6" stroke="#000" stroke-width="1.2"/>
<line x1="349.6" y1="269.6" x2="349.6" y2="273.6" stroke="#000" stroke-width="1.2"/>
<line x1="398" y1="269.6" x2="398" y2="273.6" stroke="#000" stroke-width="1.2"/>
<line x1="446" y1="269.6" x2="446" y2="273.6" stroke="#000" stroke-width="1.2"/>
<rect x="330.3" y="233" width="4.8" height="36.6" fill="#ffffff" stroke="#000" stroke-width="1.1"/>
<rect x="338.9" y="229.6" width="4.8" height="40" fill="#ffc800" stroke="#000" stroke-width="1.1"/>
<rect x="347.3" y="224" width="4.8" height="45.6" fill="#00d020" stroke="#000" stroke-width="1.1"/>
<rect x="355.9" y="223" width="4.8" height="46.6" fill="#c030f0" stroke="#000" stroke-width="1.1"/>
<rect x="364.3" y="207" width="4.8" height="62.6" fill="#ff0040" stroke="#000" stroke-width="1.1"/>
<rect x="378.7" y="252" width="4.8" height="17.6" fill="#ffffff" stroke="#000" stroke-width="1.1"/>
<rect x="386.9" y="255" width="4.8" height="14.6" fill="#ffc800" stroke="#000" stroke-width="1.1"/>
<rect x="395.3" y="250" width="4.8" height="19.6" fill="#00d020" stroke="#000" stroke-width="1.1"/>
<rect x="403.9" y="215.3" width="4.8" height="54.3" fill="#c030f0" stroke="#000" stroke-width="1.1"/>
<rect x="412.5" y="209.5" width="4.8" height="60.1" fill="#ff0040" stroke="#000" stroke-width="1.1"/>
<rect x="426.6" y="244.4" width="4.8" height="25.2" fill="#ffffff" stroke="#000" stroke-width="1.1"/>
<rect x="435.2" y="240" width="4.8" height="29.6" fill="#ffc800" stroke="#000" stroke-width="1.1"/>
<rect x="443.6" y="234" width="4.8" height="35.6" fill="#00d020" stroke="#000" stroke-width="1.1"/>
<rect x="452.1" y="226" width="4.8" height="43.6" fill="#c030f0" stroke="#000" stroke-width="1.1"/>
<rect x="460.7" y="221" width="4.8" height="48.6" fill="#ff0040" stroke="#000" stroke-width="1.1"/>
<circle cx="332" cy="233.5" r="2.0" fill="#000"/>
<circle cx="333.4" cy="232.5" r="2.0" fill="#000"/>
<circle cx="332.7" cy="232.8" r="2.0" fill="#000"/>
<circle cx="340.6" cy="230.1" r="2.0" fill="#000"/>
<circle cx="342" cy="229.1" r="2.0" fill="#000"/>
<circle cx="341.3" cy="229.4" r="2.0" fill="#000"/>
<circle cx="349" cy="224.5" r="2.0" fill="#000"/>
<circle cx="350.4" cy="223.5" r="2.0" fill="#000"/>
<circle cx="349.7" cy="223.8" r="2.0" fill="#000"/>
<circle cx="357.6" cy="223.5" r="2.0" fill="#000"/>
<circle cx="359" cy="222.5" r="2.0" fill="#000"/>
<circle cx="358.3" cy="222.8" r="2.0" fill="#000"/>
<circle cx="366" cy="207.5" r="2.0" fill="#000"/>
<circle cx="367.4" cy="206.5" r="2.0" fill="#000"/>
<circle cx="366.7" cy="206.8" r="2.0" fill="#000"/>
<line x1="381.1" y1="249.5" x2="381.1" y2="254.5" stroke="#000" stroke-width="0.8"/>
<line x1="379.6" y1="249.5" x2="382.6" y2="249.5" stroke="#000" stroke-width="0.8"/>
<line x1="379.6" y1="254.5" x2="382.6" y2="254.5" stroke="#000" stroke-width="0.8"/>
<circle cx="381.1" cy="249" r="1.7" fill="#000"/>
<circle cx="381.7" cy="251.5" r="1.7" fill="#000"/>
<circle cx="380.5" cy="253" r="1.7" fill="#000"/>
<circle cx="381.1" cy="255" r="1.7" fill="#000"/>
<line x1="389.3" y1="253" x2="389.3" y2="257" stroke="#000" stroke-width="0.8"/>
<line x1="387.8" y1="253" x2="390.8" y2="253" stroke="#000" stroke-width="0.8"/>
<line x1="387.8" y1="257" x2="390.8" y2="257" stroke="#000" stroke-width="0.8"/>
<circle cx="389.3" cy="252.5" r="1.7" fill="#000"/>
<circle cx="389.8" cy="255" r="1.7" fill="#000"/>
<circle cx="388.8" cy="256.8" r="1.7" fill="#000"/>
<circle cx="397" cy="250.5" r="2.0" fill="#000"/>
<circle cx="398.4" cy="249.5" r="2.0" fill="#000"/>
<circle cx="397.7" cy="249.8" r="2.0" fill="#000"/>
<circle cx="405.6" cy="215.8" r="2.0" fill="#000"/>
<circle cx="407" cy="214.8" r="2.0" fill="#000"/>
<circle cx="406.3" cy="215.1" r="2.0" fill="#000"/>
<circle cx="414.2" cy="210" r="2.0" fill="#000"/>
<circle cx="415.6" cy="209" r="2.0" fill="#000"/>
<circle cx="414.9" cy="209.3" r="2.0" fill="#000"/>
<circle cx="428.3" cy="244.9" r="2.0" fill="#000"/>
<circle cx="429.7" cy="243.9" r="2.0" fill="#000"/>
<circle cx="429" cy="244.2" r="2.0" fill="#000"/>
<circle cx="436.9" cy="240.5" r="2.0" fill="#000"/>
<circle cx="438.3" cy="239.5" r="2.0" fill="#000"/>
<circle cx="437.6" cy="239.8" r="2.0" fill="#000"/>
<circle cx="445.3" cy="234.5" r="2.0" fill="#000"/>
<circle cx="446.7" cy="233.5" r="2.0" fill="#000"/>
<circle cx="446" cy="233.8" r="2.0" fill="#000"/>
<circle cx="453.8" cy="226.5" r="2.0" fill="#000"/>
<circle cx="455.2" cy="225.5" r="2.0" fill="#000"/>
<circle cx="454.5" cy="225.8" r="2.0" fill="#000"/>
<circle cx="462.4" cy="221.5" r="2.0" fill="#000"/>
<circle cx="463.8" cy="220.5" r="2.0" fill="#000"/>
<circle cx="463.1" cy="220.8" r="2.0" fill="#000"/>
<path d="M332.5 191.5V186.5H367.5V191.5" stroke="#000" stroke-width="1.2" fill="none"/>
<text x="349.77" y="183.62" font-size="7.6" font-weight="bold" text-anchor="middle" stroke="#000" stroke-width="0.25" letter-spacing="0.75">***</text>
<path d="M332.5 204.4V199.5H358.5V204.4" stroke="#000" stroke-width="1.2" fill="none"/>
<text x="345.38" y="197.02" font-size="7.6" font-weight="bold" text-anchor="middle" stroke="#000" stroke-width="0.25" letter-spacing="0.75">***</text>
<path d="M332.5 218V213.5H350.5V218" stroke="#000" stroke-width="1.2" fill="none"/>
<text x="341.38" y="210.42" font-size="7.6" font-weight="bold" text-anchor="middle" stroke="#000" stroke-width="0.25" letter-spacing="0.75">***</text>
<path d="M379.5 197V192.5H415.5V197" stroke="#000" stroke-width="1.2" fill="none"/>
<text x="397.38" y="186.62" font-size="7.6" font-weight="bold" text-anchor="middle" stroke="#000" stroke-width="0.25" letter-spacing="0.75">***</text>
<path d="M379.5 209V204.5H406.5V209" stroke="#000" stroke-width="1.2" fill="none"/>
<text x="392.98" y="201.82" font-size="7.6" font-weight="bold" text-anchor="middle" stroke="#000" stroke-width="0.25" letter-spacing="0.75">***</text>
<path d="M428.5 205V200.5H463.5V205" stroke="#000" stroke-width="1.2" fill="none"/>
<text x="446.38" y="197.32" font-size="7.6" font-weight="bold" text-anchor="middle" stroke="#000" stroke-width="0.25" letter-spacing="0.75">***</text>
<path d="M428.5 215V210.5H454.5V215" stroke="#000" stroke-width="1.2" fill="none"/>
<text x="440.88" y="208.82" font-size="7.6" font-weight="bold" text-anchor="middle" stroke="#000" stroke-width="0.25" letter-spacing="0.75">***</text>
<path d="M428.5 225.2V220.5H446.5V225.2" stroke="#000" stroke-width="1.2" fill="none"/>
<text x="437.88" y="219.52" font-size="7.6" font-weight="bold" text-anchor="middle" stroke="#000" stroke-width="0.25" letter-spacing="0.75">***</text>
<path d="M428.5 233.8V228.5H438.5V233.8" stroke="#000" stroke-width="1.2" fill="none"/>
<text x="434.38" y="227.62" font-size="7.6" font-weight="bold" text-anchor="middle" stroke="#000" stroke-width="0.25" letter-spacing="0.75">**</text>
<text x="349.6" y="282.1" font-size="7.1" text-anchor="middle" stroke="#000" stroke-width="0.2">Uninfected</text>
<text x="398" y="282.1" font-size="7.1" font-style="italic" text-anchor="middle" stroke="#000" stroke-width="0.2">Aa</text>
<text x="446" y="282.1" font-size="7.1" font-style="italic" text-anchor="middle" stroke="#000" stroke-width="0.2">Pg</text>
<rect x="490.5" y="178.4" width="9.6" height="4.8" fill="#ffffff" stroke="#000" stroke-width="1.1"/>
<text x="506.4" y="183.45" font-size="7.65" stroke="#000" stroke-width="0.22">Vehicle</text>
<rect x="490.5" y="192.4" width="9.6" height="4.8" fill="#ffc800" stroke="#000" stroke-width="1.1"/>
<text x="506.4" y="197.45" font-size="7.65" stroke="#000" stroke-width="0.22">78c 1.25 µM</text>
<rect x="490.5" y="205.4" width="9.6" height="4.8" fill="#00d020" stroke="#000" stroke-width="1.1"/>
<text x="506.4" y="210.45" font-size="7.65" stroke="#000" stroke-width="0.22">78c 2.5 µM</text>
<rect x="490.5" y="218.8" width="9.6" height="4.8" fill="#c030f0" stroke="#000" stroke-width="1.1"/>
<text x="506.4" y="223.85" font-size="7.65" stroke="#000" stroke-width="0.22">78c 5 µM</text>
<rect x="490.5" y="232.4" width="9.6" height="4.8" fill="#ff0040" stroke="#000" stroke-width="1.1"/>
<text x="506.4" y="237.45" font-size="7.65" stroke="#000" stroke-width="0.22">78c 10 µM</text>
<text x="8" y="311.7" font-size="14.2" font-weight="bold" stroke="#000" stroke-width="0.3">E</text>
<text x="110.8" y="310.6" font-size="9.0" font-weight="bold" text-anchor="middle" stroke="#000" stroke-width="0.25">Gpx4</text>
<line x1="40.2" y1="323" x2="40.2" y2="419.6" stroke="#000" stroke-width="1.2"/>
<line x1="36.6" y1="323.6" x2="40.2" y2="323.6" stroke="#000" stroke-width="1.2"/>
<text x="34.4" y="326.1" font-size="6.9" font-weight="bold" text-anchor="end" stroke="#000" stroke-width="0.35">2.0</text>
<line x1="36.6" y1="347.4" x2="40.2" y2="347.4" stroke="#000" stroke-width="1.2"/>
<text x="34.4" y="349.9" font-size="6.9" font-weight="bold" text-anchor="end" stroke="#000" stroke-width="0.35">1.5</text>
<line x1="36.6" y1="371.4" x2="40.2" y2="371.4" stroke="#000" stroke-width="1.2"/>
<text x="34.4" y="373.9" font-size="6.9" font-weight="bold" text-anchor="end" stroke="#000" stroke-width="0.35">1.0</text>
<line x1="36.6" y1="395.4" x2="40.2" y2="395.4" stroke="#000" stroke-width="1.2"/>
<text x="34.4" y="397.9" font-size="6.9" font-weight="bold" text-anchor="end" stroke="#000" stroke-width="0.35">0.5</text>
<line x1="36.6" y1="419" x2="40.2" y2="419" stroke="#000" stroke-width="1.2"/>
<text x="34.4" y="421.5" font-size="6.9" font-weight="bold" text-anchor="end" stroke="#000" stroke-width="0.35">0.0</text>
<text x="10.5" y="371" font-size="7.7" font-weight="bold" text-anchor="middle" transform="rotate(-90 10.5 371)" stroke="#000" stroke-width="0.4">Gpx4 relative</text>
<text x="19.7" y="371" font-size="7.7" font-weight="bold" text-anchor="middle" transform="rotate(-90 19.7 371)" stroke="#000" stroke-width="0.4">mRNA expression</text>
<line x1="39.6" y1="419" x2="181.4" y2="419" stroke="#000" stroke-width="1.2"/>
<line x1="62.6" y1="419" x2="62.6" y2="423" stroke="#000" stroke-width="1.2"/>
<line x1="110.5" y1="419" x2="110.5" y2="423" stroke="#000" stroke-width="1.2"/>
<line x1="159" y1="419" x2="159" y2="423" stroke="#000" stroke-width="1.2"/>
<rect x="43.7" y="370.4" width="4.8" height="48.6" fill="#ffffff" stroke="#000" stroke-width="1.1"/>
<rect x="51.7" y="366" width="4.8" height="53" fill="#ffc800" stroke="#000" stroke-width="1.1"/>
<rect x="60.1" y="369.6" width="4.8" height="49.4" fill="#00d020" stroke="#000" stroke-width="1.1"/>
<rect x="68.7" y="363.6" width="4.8" height="55.4" fill="#c030f0" stroke="#000" stroke-width="1.1"/>
<rect x="77.1" y="341" width="4.8" height="78" fill="#ff0040" stroke="#000" stroke-width="1.1"/>
<rect x="91.1" y="403" width="4.8" height="16" fill="#ffffff" stroke="#000" stroke-width="1.1"/>
<rect x="99.5" y="396.4" width="4.8" height="22.6" fill="#ffc800" stroke="#000" stroke-width="1.1"/>
<rect x="108.2" y="382" width="4.8" height="37" fill="#00d020" stroke="#000" stroke-width="1.1"/>
<rect x="116.7" y="367" width="4.8" height="52" fill="#c030f0" stroke="#000" stroke-width="1.1"/>
<rect x="125.5" y="356" width="4.8" height="63" fill="#ff0040" stroke="#000" stroke-width="1.1"/>
<rect x="139.5" y="389" width="4.8" height="30" fill="#ffffff" stroke="#000" stroke-width="1.1"/>
<rect x="147.9" y="394" width="4.8" height="25" fill="#ffc800" stroke="#000" stroke-width="1.1"/>
<rect x="156.5" y="385" width="4.8" height="34" fill="#00d020" stroke="#000" stroke-width="1.1"/>
<rect x="164.9" y="380" width="4.8" height="39" fill="#c030f0" stroke="#000" stroke-width="1.1"/>
<rect x="173.7" y="372" width="4.8" height="47" fill="#ff0040" stroke="#000" stroke-width="1.1"/>
<circle cx="45.4" cy="370.9" r="2.0" fill="#000"/>
<circle cx="46.8" cy="369.9" r="2.0" fill="#000"/>
<circle cx="46.1" cy="370.2" r="2.0" fill="#000"/>
<line x1="54.1" y1="363.5" x2="54.1" y2="368.5" stroke="#000" stroke-width="0.8"/>
<line x1="52.6" y1="363.5" x2="55.6" y2="363.5" stroke="#000" stroke-width="0.8"/>
<line x1="52.6" y1="368.5" x2="55.6" y2="368.5" stroke="#000" stroke-width="0.8"/>
<circle cx="54.1" cy="363" r="1.7" fill="#000"/>
<circle cx="53.6" cy="365.5" r="1.7" fill="#000"/>
<circle cx="54.6" cy="367.5" r="1.7" fill="#000"/>
<circle cx="61.8" cy="370.1" r="2.0" fill="#000"/>
<circle cx="63.2" cy="369.1" r="2.0" fill="#000"/>
<circle cx="62.5" cy="369.4" r="2.0" fill="#000"/>
<circle cx="70.4" cy="364.1" r="2.0" fill="#000"/>
<circle cx="71.8" cy="363.1" r="2.0" fill="#000"/>
<circle cx="71.1" cy="363.4" r="2.0" fill="#000"/>
<circle cx="78.8" cy="341.5" r="2.0" fill="#000"/>
<circle cx="80.2" cy="340.5" r="2.0" fill="#000"/>
<circle cx="79.5" cy="340.8" r="2.0" fill="#000"/>
<circle cx="92.8" cy="403.5" r="2.0" fill="#000"/>
<circle cx="94.2" cy="402.5" r="2.0" fill="#000"/>
<circle cx="93.5" cy="402.8" r="2.0" fill="#000"/>
<circle cx="101.2" cy="396.9" r="2.0" fill="#000"/>
<circle cx="102.6" cy="395.9" r="2.0" fill="#000"/>
<circle cx="101.9" cy="396.2" r="2.0" fill="#000"/>
<circle cx="109.9" cy="382.5" r="2.0" fill="#000"/>
<circle cx="111.3" cy="381.5" r="2.0" fill="#000"/>
<circle cx="110.6" cy="381.8" r="2.0" fill="#000"/>
<line x1="119.1" y1="364" x2="119.1" y2="370" stroke="#000" stroke-width="0.8"/>
<line x1="117.6" y1="364" x2="120.6" y2="364" stroke="#000" stroke-width="0.8"/>
<line x1="117.6" y1="370" x2="120.6" y2="370" stroke="#000" stroke-width="0.8"/>
<circle cx="118.6" cy="363" r="1.7" fill="#000"/>
<circle cx="119.6" cy="366" r="1.7" fill="#000"/>
<circle cx="119.1" cy="369" r="1.7" fill="#000"/>
<line x1="127.9" y1="350" x2="127.9" y2="362" stroke="#000" stroke-width="0.8"/>
<line x1="126.4" y1="350" x2="129.4" y2="350" stroke="#000" stroke-width="0.8"/>
<line x1="126.4" y1="362" x2="129.4" y2="362" stroke="#000" stroke-width="0.8"/>
<circle cx="127.9" cy="347" r="1.7" fill="#000"/>
<circle cx="127.9" cy="354" r="1.7" fill="#000"/>
<circle cx="127.5" cy="358.5" r="1.7" fill="#000"/>
<circle cx="128.3" cy="362" r="1.7" fill="#000"/>
<circle cx="141.2" cy="389.5" r="2.0" fill="#000"/>
<circle cx="142.6" cy="388.5" r="2.0" fill="#000"/>
<circle cx="141.9" cy="388.8" r="2.0" fill="#000"/>
<circle cx="149.6" cy="394.5" r="2.0" fill="#000"/>
<circle cx="151" cy="393.5" r="2.0" fill="#000"/>
<circle cx="150.3" cy="393.8" r="2.0" fill="#000"/>
<line x1="158.9" y1="382.5" x2="158.9" y2="387" stroke="#000" stroke-width="0.8"/>
<line x1="157.4" y1="382.5" x2="160.4" y2="382.5" stroke="#000" stroke-width="0.8"/>
<line x1="157.4" y1="387" x2="160.4" y2="387" stroke="#000" stroke-width="0.8"/>
<circle cx="158.6" cy="382" r="1.7" fill="#000"/>
<circle cx="159.3" cy="384.5" r="1.7" fill="#000"/>
<circle cx="158.6" cy="386.5" r="1.7" fill="#000"/>
<circle cx="166.6" cy="380.5" r="2.0" fill="#000"/>
<circle cx="168" cy="379.5" r="2.0" fill="#000"/>
<circle cx="167.3" cy="379.8" r="2.0" fill="#000"/>
<line x1="176.1" y1="368" x2="176.1" y2="376" stroke="#000" stroke-width="0.8"/>
<line x1="174.6" y1="368" x2="177.6" y2="368" stroke="#000" stroke-width="0.8"/>
<line x1="174.6" y1="376" x2="177.6" y2="376" stroke="#000" stroke-width="0.8"/>
<circle cx="176.1" cy="367" r="1.7" fill="#000"/>
<circle cx="176.1" cy="372" r="1.7" fill="#000"/>
<circle cx="176.1" cy="375" r="1.7" fill="#000"/>
<path d="M44.5 332.6V327.5H79.5V332.6" stroke="#000" stroke-width="1.2" fill="none"/>
<text x="61.98" y="326.42" font-size="7.6" font-weight="bold" text-anchor="middle" stroke="#000" stroke-width="0.25" letter-spacing="0.75">***</text>
<path d="M44.5 346V341.5H70.5V346" stroke="#000" stroke-width="1.2" fill="none"/>
<text x="57.77" y="340.22" font-size="7.6" font-weight="bold" text-anchor="middle" stroke="#000" stroke-width="0.25" letter-spacing="0.75">*</text>
<path d="M89.5 342V337.5H127.5V342" stroke="#000" stroke-width="1.2" fill="none"/>
<text x="105.97" y="333.82" font-size="7.6" font-weight="bold" text-anchor="middle" stroke="#000" stroke-width="0.25" letter-spacing="0.75">***</text>
<path d="M89.5 355V350.5H119.5V355" stroke="#000" stroke-width="1.2" fill="none"/>
<text x="102.97" y="349.22" font-size="7.6" font-weight="bold" text-anchor="middle" stroke="#000" stroke-width="0.25" letter-spacing="0.75">***</text>
<path d="M89.5 373.7V368.5H110.5V373.7" stroke="#000" stroke-width="1.2" fill="none"/>
<text x="101.17" y="367.82" font-size="7.6" font-weight="bold" text-anchor="middle" stroke="#000" stroke-width="0.25" letter-spacing="0.75">***</text>
<path d="M139.5 360.7V355.5H176.5V360.7" stroke="#000" stroke-width="1.2" fill="none"/>
<text x="157.78" y="354.82" font-size="7.6" font-weight="bold" text-anchor="middle" stroke="#000" stroke-width="0.25" letter-spacing="0.75">***</text>
<path d="M139.5 373.4V368.5H167.5V373.4" stroke="#000" stroke-width="1.2" fill="none"/>
<text x="153.97" y="367.42" font-size="7.6" font-weight="bold" text-anchor="middle" stroke="#000" stroke-width="0.25" letter-spacing="0.75">*</text>
<text x="63" y="431.4" font-size="7.1" text-anchor="middle" stroke="#000" stroke-width="0.2">Uninfected</text>
<text x="110.5" y="431.4" font-size="7.1" font-style="italic" text-anchor="middle" stroke="#000" stroke-width="0.2">Aa</text>
<text x="159" y="431.4" font-size="7.1" font-style="italic" text-anchor="middle" stroke="#000" stroke-width="0.2">Pg</text>
<rect x="203.1" y="328" width="10" height="4.8" fill="#ffffff" stroke="#000" stroke-width="1.1"/>
<text x="219" y="333.05" font-size="7.65" stroke="#000" stroke-width="0.22">Vehicle</text>
<rect x="203.1" y="341.4" width="10" height="4.8" fill="#ffc800" stroke="#000" stroke-width="1.1"/>
<text x="219" y="346.45" font-size="7.65" stroke="#000" stroke-width="0.22">78c 1.25 µM</text>
<rect x="203.1" y="354.8" width="10" height="4.8" fill="#00d020" stroke="#000" stroke-width="1.1"/>
<text x="219" y="359.85" font-size="7.65" stroke="#000" stroke-width="0.22">78c 2.5 µM</text>
<rect x="203.1" y="368" width="10" height="4.8" fill="#c030f0" stroke="#000" stroke-width="1.1"/>
<text x="219" y="373.05" font-size="7.65" stroke="#000" stroke-width="0.22">78c 5 µM</text>
<rect x="203.1" y="381.4" width="10" height="4.8" fill="#ff0040" stroke="#000" stroke-width="1.1"/>
<text x="219" y="386.45" font-size="7.65" stroke="#000" stroke-width="0.22">78c 10 µM</text>
<text x="300.8" y="312.2" font-size="14.2" font-weight="bold" stroke="#000" stroke-width="0.3">F</text>
<text x="394" y="312.2" font-size="9.0" font-weight="bold" text-anchor="middle" stroke="#000" stroke-width="0.25">Prdx1</text>
<line x1="322.2" y1="323.8" x2="322.2" y2="419.8" stroke="#000" stroke-width="1.2"/>
<line x1="318.8" y1="324.4" x2="322.2" y2="324.4" stroke="#000" stroke-width="1.2"/>
<text x="316.2" y="326.9" font-size="6.9" font-weight="bold" text-anchor="end" stroke="#000" stroke-width="0.35">4</text>
<line x1="318.8" y1="348" x2="322.2" y2="348" stroke="#000" stroke-width="1.2"/>
<text x="316.2" y="350.5" font-size="6.9" font-weight="bold" text-anchor="end" stroke="#000" stroke-width="0.35">3</text>
<line x1="318.8" y1="371.6" x2="322.2" y2="371.6" stroke="#000" stroke-width="1.2"/>
<text x="316.2" y="374.1" font-size="6.9" font-weight="bold" text-anchor="end" stroke="#000" stroke-width="0.35">2</text>
<line x1="318.8" y1="395.5" x2="322.2" y2="395.5" stroke="#000" stroke-width="1.2"/>
<text x="316.2" y="398" font-size="6.9" font-weight="bold" text-anchor="end" stroke="#000" stroke-width="0.35">1</text>
<line x1="318.8" y1="419.2" x2="322.2" y2="419.2" stroke="#000" stroke-width="1.2"/>
<text x="316.2" y="421.7" font-size="6.9" font-weight="bold" text-anchor="end" stroke="#000" stroke-width="0.35">0</text>
<text x="298.1" y="372" font-size="7.7" font-weight="bold" text-anchor="middle" transform="rotate(-90 298.1 372)" stroke="#000" stroke-width="0.4">Prdx1 relative</text>
<text x="307.1" y="372" font-size="7.7" font-weight="bold" text-anchor="middle" transform="rotate(-90 307.1 372)" stroke="#000" stroke-width="0.4">mRNA expression</text>
<line x1="321.6" y1="419.2" x2="466.6" y2="419.2" stroke="#000" stroke-width="1.2"/>
<line x1="345.1" y1="419.2" x2="345.1" y2="423.2" stroke="#000" stroke-width="1.2"/>
<line x1="394.2" y1="419.2" x2="394.2" y2="423.2" stroke="#000" stroke-width="1.2"/>
<line x1="443.4" y1="419.2" x2="443.4" y2="423.2" stroke="#000" stroke-width="1.2"/>
<rect x="325.8" y="396" width="4.8" height="23.2" fill="#ffffff" stroke="#000" stroke-width="1.1"/>
<rect x="334.2" y="393" width="4.8" height="26.2" fill="#ffc800" stroke="#000" stroke-width="1.1"/>
<rect x="342.6" y="391.6" width="4.8" height="27.6" fill="#00d020" stroke="#000" stroke-width="1.1"/>
<rect x="351.2" y="387.6" width="4.8" height="31.6" fill="#c030f0" stroke="#000" stroke-width="1.1"/>
<rect x="359.8" y="377.6" width="4.8" height="41.6" fill="#ff0040" stroke="#000" stroke-width="1.1"/>
<rect x="374.5" y="397" width="4.8" height="22.2" fill="#ffffff" stroke="#000" stroke-width="1.1"/>
<rect x="383.1" y="396" width="4.8" height="23.2" fill="#ffc800" stroke="#000" stroke-width="1.1"/>
<rect x="391.5" y="390.4" width="4.8" height="28.8" fill="#00d020" stroke="#000" stroke-width="1.1"/>
<rect x="400.5" y="359" width="4.8" height="60.2" fill="#c030f0" stroke="#000" stroke-width="1.1"/>
<rect x="409.1" y="354" width="4.8" height="65.2" fill="#ff0040" stroke="#000" stroke-width="1.1"/>
<rect x="423.9" y="393" width="4.8" height="26.2" fill="#ffffff" stroke="#000" stroke-width="1.1"/>
<rect x="432.1" y="393" width="4.8" height="26.2" fill="#ffc800" stroke="#000" stroke-width="1.1"/>
<rect x="440.8" y="384.5" width="4.8" height="34.7" fill="#00d020" stroke="#000" stroke-width="1.1"/>
<rect x="449.9" y="380" width="4.8" height="39.2" fill="#c030f0" stroke="#000" stroke-width="1.1"/>
<rect x="458.7" y="369" width="4.8" height="50.2" fill="#ff0040" stroke="#000" stroke-width="1.1"/>
<circle cx="327.5" cy="396.5" r="2.0" fill="#000"/>
<circle cx="328.9" cy="395.5" r="2.0" fill="#000"/>
<circle cx="328.2" cy="395.8" r="2.0" fill="#000"/>
<circle cx="335.9" cy="393.5" r="2.0" fill="#000"/>
<circle cx="337.3" cy="392.5" r="2.0" fill="#000"/>
<circle cx="336.6" cy="392.8" r="2.0" fill="#000"/>
<circle cx="344.3" cy="392.1" r="2.0" fill="#000"/>
<circle cx="345.7" cy="391.1" r="2.0" fill="#000"/>
<circle cx="345" cy="391.4" r="2.0" fill="#000"/>
<circle cx="352.9" cy="388.1" r="2.0" fill="#000"/>
<circle cx="354.3" cy="387.1" r="2.0" fill="#000"/>
<circle cx="353.6" cy="387.4" r="2.0" fill="#000"/>
<circle cx="361.5" cy="378.1" r="2.0" fill="#000"/>
<circle cx="362.9" cy="377.1" r="2.0" fill="#000"/>
<circle cx="362.2" cy="377.4" r="2.0" fill="#000"/>
<circle cx="376.2" cy="397.5" r="2.0" fill="#000"/>
<circle cx="377.6" cy="396.5" r="2.0" fill="#000"/>
<circle cx="376.9" cy="396.8" r="2.0" fill="#000"/>
<circle cx="384.8" cy="396.5" r="2.0" fill="#000"/>
<circle cx="386.2" cy="395.5" r="2.0" fill="#000"/>
<circle cx="385.5" cy="395.8" r="2.0" fill="#000"/>
<circle cx="393.2" cy="390.9" r="2.0" fill="#000"/>
<circle cx="394.6" cy="389.9" r="2.0" fill="#000"/>
<circle cx="393.9" cy="390.2" r="2.0" fill="#000"/>
<line x1="402.9" y1="354" x2="402.9" y2="363" stroke="#000" stroke-width="0.8"/>
<line x1="401.4" y1="354" x2="404.4" y2="354" stroke="#000" stroke-width="0.8"/>
<line x1="401.4" y1="363" x2="404.4" y2="363" stroke="#000" stroke-width="0.8"/>
<circle cx="402.3" cy="353" r="1.7" fill="#000"/>
<circle cx="403.4" cy="356" r="1.7" fill="#000"/>
<circle cx="402.9" cy="360" r="1.7" fill="#000"/>
<circle cx="402.9" cy="363" r="1.7" fill="#000"/>
<circle cx="410.8" cy="354.5" r="2.0" fill="#000"/>
<circle cx="412.2" cy="353.5" r="2.0" fill="#000"/>
<circle cx="411.5" cy="353.8" r="2.0" fill="#000"/>
<line x1="426.3" y1="390.5" x2="426.3" y2="394.5" stroke="#000" stroke-width="0.8"/>
<line x1="424.8" y1="390.5" x2="427.8" y2="390.5" stroke="#000" stroke-width="0.8"/>
<line x1="424.8" y1="394.5" x2="427.8" y2="394.5" stroke="#000" stroke-width="0.8"/>
<circle cx="426.6" cy="390.5" r="1.7" fill="#000"/>
<circle cx="425.9" cy="393" r="1.7" fill="#000"/>
<circle cx="426.6" cy="394" r="1.7" fill="#000"/>
<circle cx="433.8" cy="393.5" r="2.0" fill="#000"/>
<circle cx="435.2" cy="392.5" r="2.0" fill="#000"/>
<circle cx="434.5" cy="392.8" r="2.0" fill="#000"/>
<line x1="443.2" y1="381.5" x2="443.2" y2="387" stroke="#000" stroke-width="0.8"/>
<line x1="441.7" y1="381.5" x2="444.7" y2="381.5" stroke="#000" stroke-width="0.8"/>
<line x1="441.7" y1="387" x2="444.7" y2="387" stroke="#000" stroke-width="0.8"/>
<circle cx="443.4" cy="381.7" r="1.7" fill="#000"/>
<circle cx="442.9" cy="384.2" r="1.7" fill="#000"/>
<circle cx="443.5" cy="386.7" r="1.7" fill="#000"/>
<circle cx="451.6" cy="380.5" r="2.0" fill="#000"/>
<circle cx="453" cy="379.5" r="2.0" fill="#000"/>
<circle cx="452.3" cy="379.8" r="2.0" fill="#000"/>
<circle cx="460.4" cy="369.5" r="2.0" fill="#000"/>
<circle cx="461.8" cy="368.5" r="2.0" fill="#000"/>
<circle cx="461.1" cy="368.8" r="2.0" fill="#000"/>
<path d="M325.5 366.6V361.5H361.5V366.6" stroke="#000" stroke-width="1.2" fill="none"/>
<text x="343.38" y="360.22" font-size="7.6" font-weight="bold" text-anchor="middle" stroke="#000" stroke-width="0.25" letter-spacing="0.75">***</text>
<path d="M325.5 376.4V371.5H353.5V376.4" stroke="#000" stroke-width="1.2" fill="none"/>
<text x="338.38" y="370.42" font-size="7.6" font-weight="bold" text-anchor="middle" stroke="#000" stroke-width="0.25" letter-spacing="0.75">***</text>
<path d="M325.5 385V380.5H345.5V385" stroke="#000" stroke-width="1.2" fill="none"/>
<text x="335.98" y="379.82" font-size="7.6" font-weight="bold" text-anchor="middle" stroke="#000" stroke-width="0.25" letter-spacing="0.75">**</text>
<path d="M374.5 339.4V334.5H412.5V339.4" stroke="#000" stroke-width="1.2" fill="none"/>
<text x="389.98" y="333.22" font-size="7.6" font-weight="bold" text-anchor="middle" stroke="#000" stroke-width="0.25" letter-spacing="0.75">***</text>
<path d="M374.5 350V344.5H403.5V350" stroke="#000" stroke-width="1.2" fill="none"/>
<text x="389.98" y="343.82" font-size="7.6" font-weight="bold" text-anchor="middle" stroke="#000" stroke-width="0.25" letter-spacing="0.75">***</text>
<path d="M374.5 385V379.5H394.5V385" stroke="#000" stroke-width="1.2" fill="none"/>
<text x="382.77" y="379.42" font-size="7.6" font-weight="bold" text-anchor="middle" stroke="#000" stroke-width="0.25" letter-spacing="0.75">***</text>
<path d="M425.5 357V351.5H461.5V357" stroke="#000" stroke-width="1.2" fill="none"/>
<text x="443.38" y="350.62" font-size="7.6" font-weight="bold" text-anchor="middle" stroke="#000" stroke-width="0.25" letter-spacing="0.75">***</text>
<path d="M425.5 367.4V362.5H452.5V367.4" stroke="#000" stroke-width="1.2" fill="none"/>
<text x="439.48" y="361.42" font-size="7.6" font-weight="bold" text-anchor="middle" stroke="#000" stroke-width="0.25" letter-spacing="0.75">***</text>
<path d="M425.5 378V372.5H443.5V378" stroke="#000" stroke-width="1.2" fill="none"/>
<text x="434.68" y="371.82" font-size="7.6" font-weight="bold" text-anchor="middle" stroke="#000" stroke-width="0.25" letter-spacing="0.75">***</text>
<text x="345.1" y="431.4" font-size="7.1" text-anchor="middle" stroke="#000" stroke-width="0.2">Uninfected</text>
<text x="394.2" y="431.4" font-size="7.1" font-style="italic" text-anchor="middle" stroke="#000" stroke-width="0.2">Aa</text>
<text x="443.8" y="431.4" font-size="7.1" font-style="italic" text-anchor="middle" stroke="#000" stroke-width="0.2">Pg</text>
<rect x="488.9" y="329" width="10" height="4.8" fill="#ffffff" stroke="#000" stroke-width="1.1"/>
<text x="505.4" y="334.05" font-size="7.65" stroke="#000" stroke-width="0.22">Vehicle</text>
<rect x="488.9" y="342.4" width="10" height="4.8" fill="#ffc800" stroke="#000" stroke-width="1.1"/>
<text x="505.4" y="347.45" font-size="7.65" stroke="#000" stroke-width="0.22">78c 1.25 µM</text>
<rect x="488.9" y="355.4" width="10" height="4.8" fill="#00d020" stroke="#000" stroke-width="1.1"/>
<text x="505.4" y="360.45" font-size="7.65" stroke="#000" stroke-width="0.22">78c 2.5 µM</text>
<rect x="488.9" y="368.8" width="10" height="4.8" fill="#c030f0" stroke="#000" stroke-width="1.1"/>
<text x="505.4" y="373.85" font-size="7.65" stroke="#000" stroke-width="0.22">78c 5 µM</text>
<rect x="488.9" y="382" width="10" height="4.8" fill="#ff0040" stroke="#000" stroke-width="1.1"/>
<text x="505.4" y="387.05" font-size="7.65" stroke="#000" stroke-width="0.22">78c 10 µM</text>
<text x="8" y="458.7" font-size="14.2" font-weight="bold" stroke="#000" stroke-width="0.3">G</text>
<text x="107" y="458.4" font-size="9.0" font-weight="bold" text-anchor="middle" stroke="#000" stroke-width="0.25">Txnrd1</text>
<line x1="34.7" y1="469.8" x2="34.7" y2="566.4" stroke="#000" stroke-width="1.2"/>
<line x1="31.2" y1="470.4" x2="34.7" y2="470.4" stroke="#000" stroke-width="1.2"/>
<text x="29.2" y="472.9" font-size="6.9" font-weight="bold" text-anchor="end" stroke="#000" stroke-width="0.35">5</text>
<line x1="31.2" y1="489.4" x2="34.7" y2="489.4" stroke="#000" stroke-width="1.2"/>
<text x="29.2" y="491.9" font-size="6.9" font-weight="bold" text-anchor="end" stroke="#000" stroke-width="0.35">4</text>
<line x1="31.2" y1="508.4" x2="34.7" y2="508.4" stroke="#000" stroke-width="1.2"/>
<text x="29.2" y="510.9" font-size="6.9" font-weight="bold" text-anchor="end" stroke="#000" stroke-width="0.35">3</text>
<line x1="31.2" y1="527.3" x2="34.7" y2="527.3" stroke="#000" stroke-width="1.2"/>
<text x="29.2" y="529.8" font-size="6.9" font-weight="bold" text-anchor="end" stroke="#000" stroke-width="0.35">2</text>
<line x1="31.2" y1="546.5" x2="34.7" y2="546.5" stroke="#000" stroke-width="1.2"/>
<text x="29.2" y="549" font-size="6.9" font-weight="bold" text-anchor="end" stroke="#000" stroke-width="0.35">1</text>
<line x1="31.2" y1="565.8" x2="34.7" y2="565.8" stroke="#000" stroke-width="1.2"/>
<text x="29.2" y="568.3" font-size="6.9" font-weight="bold" text-anchor="end" stroke="#000" stroke-width="0.35">0</text>
<text x="10.5" y="518" font-size="7.7" font-weight="bold" text-anchor="middle" transform="rotate(-90 10.5 518)" stroke="#000" stroke-width="0.4">Txnrd1 relative</text>
<text x="19.7" y="518" font-size="7.7" font-weight="bold" text-anchor="middle" transform="rotate(-90 19.7 518)" stroke="#000" stroke-width="0.4">mRNA expression</text>
<line x1="34.1" y1="565.8" x2="179.6" y2="565.8" stroke="#000" stroke-width="1.2"/>
<line x1="58" y1="565.8" x2="58" y2="569.8" stroke="#000" stroke-width="1.2"/>
<line x1="107.2" y1="565.8" x2="107.2" y2="569.8" stroke="#000" stroke-width="1.2"/>
<line x1="156.2" y1="565.8" x2="156.2" y2="569.8" stroke="#000" stroke-width="1.2"/>
<rect x="38.6" y="547.4" width="4.8" height="18.4" fill="#ffffff" stroke="#000" stroke-width="1.1"/>
<rect x="47" y="544.6" width="4.8" height="21.2" fill="#ffc800" stroke="#000" stroke-width="1.1"/>
<rect x="55.7" y="542.8" width="4.8" height="23" fill="#00d020" stroke="#000" stroke-width="1.1"/>
<rect x="64.2" y="541.2" width="4.8" height="24.6" fill="#c030f0" stroke="#000" stroke-width="1.1"/>
<rect x="72.9" y="531.2" width="4.8" height="34.6" fill="#ff0040" stroke="#000" stroke-width="1.1"/>
<rect x="87.5" y="536.4" width="4.8" height="29.4" fill="#ffffff" stroke="#000" stroke-width="1.1"/>
<rect x="95.9" y="536" width="4.8" height="29.8" fill="#ffc800" stroke="#000" stroke-width="1.1"/>
<rect x="104.3" y="535" width="4.8" height="30.8" fill="#00d020" stroke="#000" stroke-width="1.1"/>
<rect x="113.5" y="510" width="4.8" height="55.8" fill="#c030f0" stroke="#000" stroke-width="1.1"/>
<rect x="122.1" y="487" width="4.8" height="78.8" fill="#ff0040" stroke="#000" stroke-width="1.1"/>
<rect x="136.7" y="537.7" width="4.8" height="28.1" fill="#ffffff" stroke="#000" stroke-width="1.1"/>
<rect x="145.3" y="536.6" width="4.8" height="29.2" fill="#ffc800" stroke="#000" stroke-width="1.1"/>
<rect x="153.9" y="530.5" width="4.8" height="35.3" fill="#00d020" stroke="#000" stroke-width="1.1"/>
<rect x="162.7" y="527.4" width="4.8" height="38.4" fill="#c030f0" stroke="#000" stroke-width="1.1"/>
<rect x="171.5" y="508" width="4.8" height="57.8" fill="#ff0040" stroke="#000" stroke-width="1.1"/>
<circle cx="40.3" cy="547.9" r="2.0" fill="#000"/>
<circle cx="41.7" cy="546.9" r="2.0" fill="#000"/>
<circle cx="41" cy="547.2" r="2.0" fill="#000"/>
<circle cx="48.7" cy="545.1" r="2.0" fill="#000"/>
<circle cx="50.1" cy="544.1" r="2.0" fill="#000"/>
<circle cx="49.4" cy="544.4" r="2.0" fill="#000"/>
<circle cx="57.4" cy="543.3" r="2.0" fill="#000"/>
<circle cx="58.8" cy="542.3" r="2.0" fill="#000"/>
<circle cx="58.1" cy="542.6" r="2.0" fill="#000"/>
<circle cx="65.9" cy="541.7" r="2.0" fill="#000"/>
<circle cx="67.3" cy="540.7" r="2.0" fill="#000"/>
<circle cx="66.6" cy="541" r="2.0" fill="#000"/>
<circle cx="74.6" cy="531.7" r="2.0" fill="#000"/>
<circle cx="76" cy="530.7" r="2.0" fill="#000"/>
<circle cx="75.3" cy="531" r="2.0" fill="#000"/>
<circle cx="89.2" cy="536.9" r="2.0" fill="#000"/>
<circle cx="90.6" cy="535.9" r="2.0" fill="#000"/>
<circle cx="89.9" cy="536.2" r="2.0" fill="#000"/>
<circle cx="97.6" cy="536.5" r="2.0" fill="#000"/>
<circle cx="99" cy="535.5" r="2.0" fill="#000"/>
<circle cx="98.3" cy="535.8" r="2.0" fill="#000"/>
<circle cx="106" cy="535.5" r="2.0" fill="#000"/>
<circle cx="107.4" cy="534.5" r="2.0" fill="#000"/>
<circle cx="106.7" cy="534.8" r="2.0" fill="#000"/>
<circle cx="115.2" cy="510.5" r="2.0" fill="#000"/>
<circle cx="116.6" cy="509.5" r="2.0" fill="#000"/>
<circle cx="115.9" cy="509.8" r="2.0" fill="#000"/>
<circle cx="123.8" cy="487.5" r="2.0" fill="#000"/>
<circle cx="125.2" cy="486.5" r="2.0" fill="#000"/>
<circle cx="124.5" cy="486.8" r="2.0" fill="#000"/>
<circle cx="138.4" cy="538.2" r="2.0" fill="#000"/>
<circle cx="139.8" cy="537.2" r="2.0" fill="#000"/>
<circle cx="139.1" cy="537.5" r="2.0" fill="#000"/>
<circle cx="147" cy="537.1" r="2.0" fill="#000"/>
<circle cx="148.4" cy="536.1" r="2.0" fill="#000"/>
<circle cx="147.7" cy="536.4" r="2.0" fill="#000"/>
<line x1="156.3" y1="528" x2="156.3" y2="532.5" stroke="#000" stroke-width="0.8"/>
<line x1="154.8" y1="528" x2="157.8" y2="528" stroke="#000" stroke-width="0.8"/>
<line x1="154.8" y1="532.5" x2="157.8" y2="532.5" stroke="#000" stroke-width="0.8"/>
<circle cx="156.3" cy="528.2" r="1.7" fill="#000"/>
<circle cx="156.8" cy="530.5" r="1.7" fill="#000"/>
<circle cx="155.9" cy="532.1" r="1.7" fill="#000"/>
<circle cx="164.4" cy="527.9" r="2.0" fill="#000"/>
<circle cx="165.8" cy="526.9" r="2.0" fill="#000"/>
<circle cx="165.1" cy="527.2" r="2.0" fill="#000"/>
<line x1="173.9" y1="505.5" x2="173.9" y2="510" stroke="#000" stroke-width="0.8"/>
<line x1="172.4" y1="505.5" x2="175.4" y2="505.5" stroke="#000" stroke-width="0.8"/>
<line x1="172.4" y1="510" x2="175.4" y2="510" stroke="#000" stroke-width="0.8"/>
<circle cx="173.9" cy="505.7" r="1.7" fill="#000"/>
<circle cx="174.3" cy="508" r="1.7" fill="#000"/>
<circle cx="173.5" cy="509.6" r="1.7" fill="#000"/>
<path d="M39.5 518.4V513.5H74.5V518.4" stroke="#000" stroke-width="1.2" fill="none"/>
<text x="57.38" y="512.22" font-size="7.6" font-weight="bold" text-anchor="middle" stroke="#000" stroke-width="0.25" letter-spacing="0.75">***</text>
<path d="M39.5 528V523.5H66.5V528" stroke="#000" stroke-width="1.2" fill="none"/>
<text x="53.38" y="521.62" font-size="7.6" font-weight="bold" text-anchor="middle" stroke="#000" stroke-width="0.25" letter-spacing="0.75">***</text>
<path d="M39.5 538.6V533.5H58.5V538.6" stroke="#000" stroke-width="1.2" fill="none"/>
<text x="49.38" y="532.22" font-size="7.6" font-weight="bold" text-anchor="middle" stroke="#000" stroke-width="0.25" letter-spacing="0.75">***</text>
<path d="M88.5 483.6V478.5H124.5V483.6" stroke="#000" stroke-width="1.2" fill="none"/>
<text x="103.38" y="477.82" font-size="7.6" font-weight="bold" text-anchor="middle" stroke="#000" stroke-width="0.25" letter-spacing="0.75">***</text>
<path d="M88.5 502.4V497.5H116.5V502.4" stroke="#000" stroke-width="1.2" fill="none"/>
<text x="103.08" y="493.62" font-size="7.6" font-weight="bold" text-anchor="middle" stroke="#000" stroke-width="0.25" letter-spacing="0.75">***</text>
<path d="M136.5 499.6V494.5H173.5V499.6" stroke="#000" stroke-width="1.2" fill="none"/>
<text x="155.38" y="490.72" font-size="7.6" font-weight="bold" text-anchor="middle" stroke="#000" stroke-width="0.25" letter-spacing="0.75">***</text>
<path d="M136.5 511V506.5H163.5V511" stroke="#000" stroke-width="1.2" fill="none"/>
<text x="151.68" y="503.62" font-size="7.6" font-weight="bold" text-anchor="middle" stroke="#000" stroke-width="0.25" letter-spacing="0.75">***</text>
<path d="M136.5 523.6V518.5H155.5V523.6" stroke="#000" stroke-width="1.2" fill="none"/>
<text x="148.38" y="517.22" font-size="7.6" font-weight="bold" text-anchor="middle" stroke="#000" stroke-width="0.25" letter-spacing="0.75">***</text>
<text x="58" y="578.1" font-size="7.1" text-anchor="middle" stroke="#000" stroke-width="0.2">Uninfected</text>
<text x="107.2" y="578.5" font-size="7.1" font-style="italic" text-anchor="middle" stroke="#000" stroke-width="0.2">Aa</text>
<text x="156.2" y="578.5" font-size="7.1" font-style="italic" text-anchor="middle" stroke="#000" stroke-width="0.2">Pg</text>
<rect x="201.9" y="474.8" width="10" height="4.8" fill="#ffffff" stroke="#000" stroke-width="1.1"/>
<text x="218.5" y="479.85" font-size="7.65" stroke="#000" stroke-width="0.22">Vehicle</text>
<rect x="201.9" y="488" width="10" height="4.8" fill="#ffc800" stroke="#000" stroke-width="1.1"/>
<text x="218.5" y="493.05" font-size="7.65" stroke="#000" stroke-width="0.22">78c 1.25 µM</text>
<rect x="201.9" y="501.4" width="10" height="4.8" fill="#00d020" stroke="#000" stroke-width="1.1"/>
<text x="218.5" y="506.45" font-size="7.65" stroke="#000" stroke-width="0.22">78c 2.5 µM</text>
<rect x="201.9" y="514.8" width="10" height="4.8" fill="#c030f0" stroke="#000" stroke-width="1.1"/>
<text x="218.5" y="519.85" font-size="7.65" stroke="#000" stroke-width="0.22">78c 5 µM</text>
<rect x="201.9" y="528" width="10" height="4.8" fill="#ff0040" stroke="#000" stroke-width="1.1"/>
<text x="218.5" y="533.05" font-size="7.65" stroke="#000" stroke-width="0.22">78c 10 µM</text>
<text x="300" y="456.9" font-size="14.2" font-weight="bold" stroke="#000" stroke-width="0.3">H</text>
<text x="398.3" y="458.4" font-size="9.0" font-weight="bold" text-anchor="middle" stroke="#000" stroke-width="0.25">Cat</text>
<line x1="327.2" y1="469.8" x2="327.2" y2="566.4" stroke="#000" stroke-width="1.2"/>
<line x1="323.8" y1="470.4" x2="327.2" y2="470.4" stroke="#000" stroke-width="1.2"/>
<text x="321.6" y="472.9" font-size="6.9" font-weight="bold" text-anchor="end" stroke="#000" stroke-width="0.35">2.5</text>
<line x1="323.8" y1="489.4" x2="327.2" y2="489.4" stroke="#000" stroke-width="1.2"/>
<text x="321.6" y="491.9" font-size="6.9" font-weight="bold" text-anchor="end" stroke="#000" stroke-width="0.35">2.0</text>
<line x1="323.8" y1="508.6" x2="327.2" y2="508.6" stroke="#000" stroke-width="1.2"/>
<text x="321.6" y="511.1" font-size="6.9" font-weight="bold" text-anchor="end" stroke="#000" stroke-width="0.35">1.5</text>
<line x1="323.8" y1="527.4" x2="327.2" y2="527.4" stroke="#000" stroke-width="1.2"/>
<text x="321.6" y="529.9" font-size="6.9" font-weight="bold" text-anchor="end" stroke="#000" stroke-width="0.35">1.0</text>
<line x1="323.8" y1="546.5" x2="327.2" y2="546.5" stroke="#000" stroke-width="1.2"/>
<text x="321.6" y="549" font-size="6.9" font-weight="bold" text-anchor="end" stroke="#000" stroke-width="0.35">0.5</text>
<line x1="323.8" y1="565.8" x2="327.2" y2="565.8" stroke="#000" stroke-width="1.2"/>
<text x="321.6" y="568.3" font-size="6.9" font-weight="bold" text-anchor="end" stroke="#000" stroke-width="0.35">0.0</text>
<text x="297.5" y="518" font-size="7.7" font-weight="bold" text-anchor="middle" transform="rotate(-90 297.5 518)" stroke="#000" stroke-width="0.4">Cat relative</text>
<text x="306.5" y="518" font-size="7.7" font-weight="bold" text-anchor="middle" transform="rotate(-90 306.5 518)" stroke="#000" stroke-width="0.4">mRNA expression</text>
<line x1="326.6" y1="565.8" x2="469" y2="565.8" stroke="#000" stroke-width="1.2"/>
<line x1="349.6" y1="565.8" x2="349.6" y2="569.8" stroke="#000" stroke-width="1.2"/>
<line x1="398" y1="565.8" x2="398" y2="569.8" stroke="#000" stroke-width="1.2"/>
<line x1="446" y1="565.8" x2="446" y2="569.8" stroke="#000" stroke-width="1.2"/>
<rect x="330.3" y="527.4" width="4.8" height="38.4" fill="#ffffff" stroke="#000" stroke-width="1.1"/>
<rect x="338.9" y="526.4" width="4.8" height="39.4" fill="#ffc800" stroke="#000" stroke-width="1.1"/>
<rect x="347.3" y="521.2" width="4.8" height="44.6" fill="#00d020" stroke="#000" stroke-width="1.1"/>
<rect x="355.9" y="523.6" width="4.8" height="42.2" fill="#c030f0" stroke="#000" stroke-width="1.1"/>
<rect x="364.5" y="488" width="4.8" height="77.8" fill="#ff0040" stroke="#000" stroke-width="1.1"/>
<rect x="378.7" y="546.6" width="4.8" height="19.2" fill="#ffffff" stroke="#000" stroke-width="1.1"/>
<rect x="386.9" y="548.8" width="4.8" height="17" fill="#ffc800" stroke="#000" stroke-width="1.1"/>
<rect x="395.6" y="548.3" width="4.8" height="17.5" fill="#00d020" stroke="#000" stroke-width="1.1"/>
<rect x="403.9" y="550" width="4.8" height="15.8" fill="#c030f0" stroke="#000" stroke-width="1.1"/>
<rect x="412.7" y="534.5" width="4.8" height="31.3" fill="#ff0040" stroke="#000" stroke-width="1.1"/>
<rect x="426.6" y="555.6" width="4.8" height="10.2" fill="#ffffff" stroke="#000" stroke-width="1.1"/>
<rect x="435.2" y="553.6" width="4.8" height="12.2" fill="#ffc800" stroke="#000" stroke-width="1.1"/>
<rect x="443.6" y="552" width="4.8" height="13.8" fill="#00d020" stroke="#000" stroke-width="1.1"/>
<rect x="452.1" y="549.6" width="4.8" height="16.2" fill="#c030f0" stroke="#000" stroke-width="1.1"/>
<rect x="460.7" y="547" width="4.8" height="18.8" fill="#ff0040" stroke="#000" stroke-width="1.1"/>
<circle cx="332" cy="527.9" r="2.0" fill="#000"/>
<circle cx="333.4" cy="526.9" r="2.0" fill="#000"/>
<circle cx="332.7" cy="527.2" r="2.0" fill="#000"/>
<line x1="341.3" y1="523.9" x2="341.3" y2="528.9" stroke="#000" stroke-width="0.8"/>
<line x1="339.8" y1="523.9" x2="342.8" y2="523.9" stroke="#000" stroke-width="0.8"/>
<line x1="339.8" y1="528.9" x2="342.8" y2="528.9" stroke="#000" stroke-width="0.8"/>
<circle cx="341.8" cy="522.9" r="1.7" fill="#000"/>
<circle cx="341" cy="525.4" r="1.7" fill="#000"/>
<circle cx="341.6" cy="527.4" r="1.7" fill="#000"/>
<circle cx="349" cy="521.7" r="2.0" fill="#000"/>
<circle cx="350.4" cy="520.7" r="2.0" fill="#000"/>
<circle cx="349.7" cy="521" r="2.0" fill="#000"/>
<line x1="358.3" y1="521.1" x2="358.3" y2="526.1" stroke="#000" stroke-width="0.8"/>
<line x1="356.8" y1="521.1" x2="359.8" y2="521.1" stroke="#000" stroke-width="0.8"/>
<line x1="356.8" y1="526.1" x2="359.8" y2="526.1" stroke="#000" stroke-width="0.8"/>
<circle cx="358.3" cy="520.6" r="1.7" fill="#000"/>
<circle cx="357.8" cy="523.1" r="1.7" fill="#000"/>
<circle cx="358.8" cy="524.6" r="1.7" fill="#000"/>
<line x1="366.9" y1="482.5" x2="366.9" y2="493.5" stroke="#000" stroke-width="0.8"/>
<line x1="365.4" y1="482.5" x2="368.4" y2="482.5" stroke="#000" stroke-width="0.8"/>
<line x1="365.4" y1="493.5" x2="368.4" y2="493.5" stroke="#000" stroke-width="0.8"/>
<circle cx="366.9" cy="479" r="1.7" fill="#000"/>
<circle cx="366.9" cy="485" r="1.7" fill="#000"/>
<circle cx="366.5" cy="489" r="1.7" fill="#000"/>
<circle cx="367.3" cy="491.5" r="1.7" fill="#000"/>
<circle cx="380.4" cy="547.1" r="2.0" fill="#000"/>
<circle cx="381.8" cy="546.1" r="2.0" fill="#000"/>
<circle cx="381.1" cy="546.4" r="2.0" fill="#000"/>
<circle cx="388.6" cy="549.3" r="2.0" fill="#000"/>
<circle cx="390" cy="548.3" r="2.0" fill="#000"/>
<circle cx="389.3" cy="548.6" r="2.0" fill="#000"/>
<circle cx="397.3" cy="548.8" r="2.0" fill="#000"/>
<circle cx="398.7" cy="547.8" r="2.0" fill="#000"/>
<circle cx="398" cy="548.1" r="2.0" fill="#000"/>
<circle cx="405.6" cy="550.5" r="2.0" fill="#000"/>
<circle cx="407" cy="549.5" r="2.0" fill="#000"/>
<circle cx="406.3" cy="549.8" r="2.0" fill="#000"/>
<circle cx="414.4" cy="535" r="2.0" fill="#000"/>
<circle cx="415.8" cy="534" r="2.0" fill="#000"/>
<circle cx="415.1" cy="534.3" r="2.0" fill="#000"/>
<circle cx="428.3" cy="556.1" r="2.0" fill="#000"/>
<circle cx="429.7" cy="555.1" r="2.0" fill="#000"/>
<circle cx="429" cy="555.4" r="2.0" fill="#000"/>
<circle cx="436.9" cy="554.1" r="2.0" fill="#000"/>
<circle cx="438.3" cy="553.1" r="2.0" fill="#000"/>
<circle cx="437.6" cy="553.4" r="2.0" fill="#000"/>
<circle cx="445.3" cy="552.5" r="2.0" fill="#000"/>
<circle cx="446.7" cy="551.5" r="2.0" fill="#000"/>
<circle cx="446" cy="551.8" r="2.0" fill="#000"/>
<circle cx="453.8" cy="550.1" r="2.0" fill="#000"/>
<circle cx="455.2" cy="549.1" r="2.0" fill="#000"/>
<circle cx="454.5" cy="549.4" r="2.0" fill="#000"/>
<circle cx="462.4" cy="547.5" r="2.0" fill="#000"/>
<circle cx="463.8" cy="546.5" r="2.0" fill="#000"/>
<circle cx="463.1" cy="546.8" r="2.0" fill="#000"/>
<path d="M331.5 475V470.5H367.5V475" stroke="#000" stroke-width="1.2" fill="none"/>
<text x="349.38" y="468.82" font-size="7.6" font-weight="bold" text-anchor="middle" stroke="#000" stroke-width="0.25" letter-spacing="0.75">***</text>
<path d="M331.5 504V499.5H357.5V504" stroke="#000" stroke-width="1.2" fill="none"/>
<text x="344.38" y="498.42" font-size="7.6" font-weight="bold" text-anchor="middle" stroke="#000" stroke-width="0.25" letter-spacing="0.75">*</text>
<path d="M331.5 515.4V510.5H350.5V515.4" stroke="#000" stroke-width="1.2" fill="none"/>
<text x="341.38" y="509.42" font-size="7.6" font-weight="bold" text-anchor="middle" stroke="#000" stroke-width="0.25" letter-spacing="0.75">***</text>
<path d="M378.5 528.6V523.5H415.5V528.6" stroke="#000" stroke-width="1.2" fill="none"/>
<text x="396.77" y="519.82" font-size="7.6" font-weight="bold" text-anchor="middle" stroke="#000" stroke-width="0.25" letter-spacing="0.75">***</text>
<path d="M427.5 523.2V518.5H463.5V523.2" stroke="#000" stroke-width="1.2" fill="none"/>
<text x="445.38" y="514.82" font-size="7.6" font-weight="bold" text-anchor="middle" stroke="#000" stroke-width="0.25" letter-spacing="0.75">***</text>
<path d="M427.5 534.6V529.5H455.5V534.6" stroke="#000" stroke-width="1.2" fill="none"/>
<text x="441.57" y="527.72" font-size="7.6" font-weight="bold" text-anchor="middle" stroke="#000" stroke-width="0.25" letter-spacing="0.75">***</text>
<path d="M427.5 545.2V540.5H446.5V545.2" stroke="#000" stroke-width="1.2" fill="none"/>
<text x="437.98" y="539.02" font-size="7.6" font-weight="bold" text-anchor="middle" stroke="#000" stroke-width="0.25" letter-spacing="0.75">**</text>
<text x="349.6" y="578.5" font-size="7.1" text-anchor="middle" stroke="#000" stroke-width="0.2">Uninfected</text>
<text x="398" y="578.5" font-size="7.1" font-style="italic" text-anchor="middle" stroke="#000" stroke-width="0.2">Aa</text>
<text x="446" y="578.5" font-size="7.1" font-style="italic" text-anchor="middle" stroke="#000" stroke-width="0.2">Pg</text>
<rect x="490.5" y="474.8" width="9.6" height="4.8" fill="#ffffff" stroke="#000" stroke-width="1.1"/>
<text x="506.4" y="479.85" font-size="7.65" stroke="#000" stroke-width="0.22">Vehicle</text>
<rect x="490.5" y="488.4" width="9.6" height="4.8" fill="#ffc800" stroke="#000" stroke-width="1.1"/>
<text x="506.4" y="493.45" font-size="7.65" stroke="#000" stroke-width="0.22">78c 1.25 µM</text>
<rect x="490.5" y="501.4" width="9.6" height="4.8" fill="#00d020" stroke="#000" stroke-width="1.1"/>
<text x="506.4" y="506.45" font-size="7.65" stroke="#000" stroke-width="0.22">78c 2.5 µM</text>
<rect x="490.5" y="514.8" width="9.6" height="4.8" fill="#c030f0" stroke="#000" stroke-width="1.1"/>
<text x="506.4" y="519.85" font-size="7.65" stroke="#000" stroke-width="0.22">78c 5 µM</text>
<rect x="490.5" y="528.4" width="9.6" height="4.8" fill="#ff0040" stroke="#000" stroke-width="1.1"/>
<text x="506.4" y="533.45" font-size="7.65" stroke="#000" stroke-width="0.22">78c 10 µM</text>
<text x="9" y="611.3" font-size="14.2" font-weight="bold" stroke="#000" stroke-width="0.3">I</text>
<text x="107" y="608.4" font-size="9.0" font-weight="bold" text-anchor="middle" stroke="#000" stroke-width="0.25">Sirt1</text>
<line x1="34.7" y1="620" x2="34.7" y2="716.9" stroke="#000" stroke-width="1.2"/>
<line x1="31.2" y1="620.6" x2="34.7" y2="620.6" stroke="#000" stroke-width="1.2"/>
<text x="29.2" y="623.1" font-size="6.9" font-weight="bold" text-anchor="end" stroke="#000" stroke-width="0.35">4</text>
<line x1="31.2" y1="644.6" x2="34.7" y2="644.6" stroke="#000" stroke-width="1.2"/>
<text x="29.2" y="647.1" font-size="6.9" font-weight="bold" text-anchor="end" stroke="#000" stroke-width="0.35">3</text>
<line x1="31.2" y1="668.4" x2="34.7" y2="668.4" stroke="#000" stroke-width="1.2"/>
<text x="29.2" y="670.9" font-size="6.9" font-weight="bold" text-anchor="end" stroke="#000" stroke-width="0.35">2</text>
<line x1="31.2" y1="692.5" x2="34.7" y2="692.5" stroke="#000" stroke-width="1.2"/>
<text x="29.2" y="695" font-size="6.9" font-weight="bold" text-anchor="end" stroke="#000" stroke-width="0.35">1</text>
<line x1="31.2" y1="716.3" x2="34.7" y2="716.3" stroke="#000" stroke-width="1.2"/>
<text x="29.2" y="718.8" font-size="6.9" font-weight="bold" text-anchor="end" stroke="#000" stroke-width="0.35">0</text>
<text x="10.5" y="668.6" font-size="7.7" font-weight="bold" text-anchor="middle" transform="rotate(-90 10.5 668.6)" stroke="#000" stroke-width="0.4">Sirt1 relative</text>
<text x="19.7" y="668.6" font-size="7.7" font-weight="bold" text-anchor="middle" transform="rotate(-90 19.7 668.6)" stroke="#000" stroke-width="0.4">mRNA expression</text>
<line x1="34.1" y1="716.3" x2="179.6" y2="716.3" stroke="#000" stroke-width="1.2"/>
<line x1="58" y1="716.3" x2="58" y2="720.3" stroke="#000" stroke-width="1.2"/>
<line x1="106.7" y1="716.3" x2="106.7" y2="720.3" stroke="#000" stroke-width="1.2"/>
<line x1="156.4" y1="716.3" x2="156.4" y2="720.3" stroke="#000" stroke-width="1.2"/>
<rect x="38.6" y="690" width="4.8" height="26.3" fill="#ffffff" stroke="#000" stroke-width="1.1"/>
<rect x="47" y="686" width="4.8" height="30.3" fill="#ffc800" stroke="#000" stroke-width="1.1"/>
<rect x="55.7" y="685.6" width="4.8" height="30.7" fill="#00d020" stroke="#000" stroke-width="1.1"/>
<rect x="64.2" y="682.4" width="4.8" height="33.9" fill="#c030f0" stroke="#000" stroke-width="1.1"/>
<rect x="72.9" y="662.6" width="4.8" height="53.7" fill="#ff0040" stroke="#000" stroke-width="1.1"/>
<rect x="87.5" y="708" width="4.8" height="8.3" fill="#ffffff" stroke="#000" stroke-width="1.1"/>
<rect x="95.9" y="708.6" width="4.8" height="7.7" fill="#ffc800" stroke="#000" stroke-width="1.1"/>
<rect x="104.3" y="708" width="4.8" height="8.3" fill="#00d020" stroke="#000" stroke-width="1.1"/>
<rect x="113.5" y="705" width="4.8" height="11.3" fill="#c030f0" stroke="#000" stroke-width="1.1"/>
<rect x="122.1" y="702" width="4.8" height="14.3" fill="#ff0040" stroke="#000" stroke-width="1.1"/>
<rect x="136.7" y="709" width="4.8" height="7.3" fill="#ffffff" stroke="#000" stroke-width="1.1"/>
<rect x="145.3" y="710" width="4.8" height="6.3" fill="#ffc800" stroke="#000" stroke-width="1.1"/>
<rect x="153.9" y="707" width="4.8" height="9.3" fill="#00d020" stroke="#000" stroke-width="1.1"/>
<rect x="162.7" y="704.4" width="4.8" height="11.9" fill="#c030f0" stroke="#000" stroke-width="1.1"/>
<rect x="171.5" y="704.4" width="4.8" height="11.9" fill="#ff0040" stroke="#000" stroke-width="1.1"/>
<line x1="41" y1="687.5" x2="41" y2="692.5" stroke="#000" stroke-width="0.8"/>
<line x1="39.5" y1="687.5" x2="42.5" y2="687.5" stroke="#000" stroke-width="0.8"/>
<line x1="39.5" y1="692.5" x2="42.5" y2="692.5" stroke="#000" stroke-width="0.8"/>
<circle cx="41" cy="687" r="1.7" fill="#000"/>
<circle cx="41.5" cy="689.5" r="1.7" fill="#000"/>
<circle cx="40.6" cy="691.5" r="1.7" fill="#000"/>
<circle cx="48.7" cy="686.5" r="2.0" fill="#000"/>
<circle cx="50.1" cy="685.5" r="2.0" fill="#000"/>
<circle cx="49.4" cy="685.8" r="2.0" fill="#000"/>
<circle cx="57.4" cy="686.1" r="2.0" fill="#000"/>
<circle cx="58.8" cy="685.1" r="2.0" fill="#000"/>
<circle cx="58.1" cy="685.4" r="2.0" fill="#000"/>
<circle cx="65.9" cy="682.9" r="2.0" fill="#000"/>
<circle cx="67.3" cy="681.9" r="2.0" fill="#000"/>
<circle cx="66.6" cy="682.2" r="2.0" fill="#000"/>
<line x1="75.3" y1="660.1" x2="75.3" y2="665.1" stroke="#000" stroke-width="0.8"/>
<line x1="73.8" y1="660.1" x2="76.8" y2="660.1" stroke="#000" stroke-width="0.8"/>
<line x1="73.8" y1="665.1" x2="76.8" y2="665.1" stroke="#000" stroke-width="0.8"/>
<circle cx="75.3" cy="659.6" r="1.7" fill="#000"/>
<circle cx="75.8" cy="662.1" r="1.7" fill="#000"/>
<circle cx="74.9" cy="664.1" r="1.7" fill="#000"/>
<circle cx="89.2" cy="708.5" r="2.0" fill="#000"/>
<circle cx="90.6" cy="707.5" r="2.0" fill="#000"/>
<circle cx="89.9" cy="707.8" r="2.0" fill="#000"/>
<circle cx="97.6" cy="709.1" r="2.0" fill="#000"/>
<circle cx="99" cy="708.1" r="2.0" fill="#000"/>
<circle cx="98.3" cy="708.4" r="2.0" fill="#000"/>
<circle cx="106" cy="708.5" r="2.0" fill="#000"/>
<circle cx="107.4" cy="707.5" r="2.0" fill="#000"/>
<circle cx="106.7" cy="707.8" r="2.0" fill="#000"/>
<circle cx="115.2" cy="705.5" r="2.0" fill="#000"/>
<circle cx="116.6" cy="704.5" r="2.0" fill="#000"/>
<circle cx="115.9" cy="704.8" r="2.0" fill="#000"/>
<circle cx="123.8" cy="702.5" r="2.0" fill="#000"/>
<circle cx="125.2" cy="701.5" r="2.0" fill="#000"/>
<circle cx="124.5" cy="701.8" r="2.0" fill="#000"/>
<circle cx="138.4" cy="709.5" r="2.0" fill="#000"/>
<circle cx="139.8" cy="708.5" r="2.0" fill="#000"/>
<circle cx="139.1" cy="708.8" r="2.0" fill="#000"/>
<circle cx="147" cy="710.5" r="2.0" fill="#000"/>
<circle cx="148.4" cy="709.5" r="2.0" fill="#000"/>
<circle cx="147.7" cy="709.8" r="2.0" fill="#000"/>
<circle cx="155.6" cy="707.5" r="2.0" fill="#000"/>
<circle cx="157" cy="706.5" r="2.0" fill="#000"/>
<circle cx="156.3" cy="706.8" r="2.0" fill="#000"/>
<circle cx="164.4" cy="704.9" r="2.0" fill="#000"/>
<circle cx="165.8" cy="703.9" r="2.0" fill="#000"/>
<circle cx="165.1" cy="704.2" r="2.0" fill="#000"/>
<circle cx="173.2" cy="704.9" r="2.0" fill="#000"/>
<circle cx="174.6" cy="703.9" r="2.0" fill="#000"/>
<circle cx="173.9" cy="704.2" r="2.0" fill="#000"/>
<path d="M39.5 633V628.5H136.5V633.4" stroke="#000" stroke-width="1.2" fill="none"/>
<text x="92.38" y="627.82" font-size="7.6" font-weight="bold" text-anchor="middle" stroke="#000" stroke-width="0.25" letter-spacing="0.75">***</text>
<path d="M39.5 640.6V635.5H88.5V641" stroke="#000" stroke-width="1.2" fill="none"/>
<text x="63.98" y="635.22" font-size="7.6" font-weight="bold" text-anchor="middle" stroke="#000" stroke-width="0.25" letter-spacing="0.75">***</text>
<path d="M39.5 650V645.5H75.5V650.4" stroke="#000" stroke-width="1.2" fill="none"/>
<text x="57.98" y="644.02" font-size="7.6" font-weight="bold" text-anchor="middle" stroke="#000" stroke-width="0.25" letter-spacing="0.75">***</text>
<path d="M39.5 660V655.5H66.5V660.4" stroke="#000" stroke-width="1.2" fill="none"/>
<text x="53.38" y="654.02" font-size="7.6" font-weight="bold" text-anchor="middle" stroke="#000" stroke-width="0.25" letter-spacing="0.75">***</text>
<path d="M39.5 670V665.5H57.5V670.4" stroke="#000" stroke-width="1.2" fill="none"/>
<text x="48.98" y="664.02" font-size="7.6" font-weight="bold" text-anchor="middle" stroke="#000" stroke-width="0.25" letter-spacing="0.75">***</text>
<path d="M39.5 681V676.5H50.5V681.4" stroke="#000" stroke-width="1.2" fill="none"/>
<text x="45.98" y="675.42" font-size="7.6" font-weight="bold" text-anchor="middle" stroke="#000" stroke-width="0.25" letter-spacing="0.75">**</text>
<path d="M89.5 695V690.5H125.5V695" stroke="#000" stroke-width="1.2" fill="none"/>
<text x="107.38" y="688.42" font-size="7.6" font-weight="bold" text-anchor="middle" stroke="#000" stroke-width="0.25" letter-spacing="0.75">***</text>
<path d="M138.5 688V683.5H174.5V688" stroke="#000" stroke-width="1.2" fill="none"/>
<text x="155.97" y="681.02" font-size="7.6" font-weight="bold" text-anchor="middle" stroke="#000" stroke-width="0.25" letter-spacing="0.75">***</text>
<path d="M138.5 698.6V693.5H164.5V698.6" stroke="#000" stroke-width="1.2" fill="none"/>
<text x="151.78" y="692.82" font-size="7.6" font-weight="bold" text-anchor="middle" stroke="#000" stroke-width="0.25" letter-spacing="0.75">***</text>
<text x="58" y="728.5" font-size="7.1" text-anchor="middle" stroke="#000" stroke-width="0.2">Uninfected</text>
<text x="106.7" y="728.5" font-size="7.1" font-style="italic" text-anchor="middle" stroke="#000" stroke-width="0.2">Aa</text>
<text x="156.4" y="728.5" font-size="7.1" font-style="italic" text-anchor="middle" stroke="#000" stroke-width="0.2">Pg</text>
<rect x="201.9" y="624.8" width="10" height="4.8" fill="#ffffff" stroke="#000" stroke-width="1.1"/>
<text x="218.5" y="629.85" font-size="7.65" stroke="#000" stroke-width="0.22">Vehicle</text>
<rect x="201.9" y="638.4" width="10" height="4.8" fill="#ffc800" stroke="#000" stroke-width="1.1"/>
<text x="218.5" y="643.45" font-size="7.65" stroke="#000" stroke-width="0.22">78c 1.25 µM</text>
<rect x="201.9" y="651.8" width="10" height="4.8" fill="#00d020" stroke="#000" stroke-width="1.1"/>
<text x="218.5" y="656.85" font-size="7.65" stroke="#000" stroke-width="0.22">78c 2.5 µM</text>
<rect x="201.9" y="665.4" width="10" height="4.8" fill="#c030f0" stroke="#000" stroke-width="1.1"/>
<text x="218.5" y="670.45" font-size="7.65" stroke="#000" stroke-width="0.22">78c 5 µM</text>
<rect x="201.9" y="678.4" width="10" height="4.8" fill="#ff0040" stroke="#000" stroke-width="1.1"/>
<text x="218.5" y="683.45" font-size="7.65" stroke="#000" stroke-width="0.22">78c 10 µM</text>
<text x="301" y="611.7" font-size="14.2" font-weight="bold" stroke="#000" stroke-width="0.3">J</text>
<text x="397.6" y="608.2" font-size="9.0" font-weight="bold" text-anchor="middle" stroke="#000" stroke-width="0.25">Parp1</text>
<line x1="327.2" y1="620" x2="327.2" y2="716.9" stroke="#000" stroke-width="1.2"/>
<line x1="323.8" y1="620.6" x2="327.2" y2="620.6" stroke="#000" stroke-width="1.2"/>
<text x="321.6" y="623.1" font-size="6.9" font-weight="bold" text-anchor="end" stroke="#000" stroke-width="0.35">2.0</text>
<line x1="323.8" y1="644.6" x2="327.2" y2="644.6" stroke="#000" stroke-width="1.2"/>
<text x="321.6" y="647.1" font-size="6.9" font-weight="bold" text-anchor="end" stroke="#000" stroke-width="0.35">1.5</text>
<line x1="323.8" y1="668.6" x2="327.2" y2="668.6" stroke="#000" stroke-width="1.2"/>
<text x="321.6" y="671.1" font-size="6.9" font-weight="bold" text-anchor="end" stroke="#000" stroke-width="0.35">1.0</text>
<line x1="323.8" y1="692.5" x2="327.2" y2="692.5" stroke="#000" stroke-width="1.2"/>
<text x="321.6" y="695" font-size="6.9" font-weight="bold" text-anchor="end" stroke="#000" stroke-width="0.35">0.5</text>
<line x1="323.8" y1="716.3" x2="327.2" y2="716.3" stroke="#000" stroke-width="1.2"/>
<text x="321.6" y="718.8" font-size="6.9" font-weight="bold" text-anchor="end" stroke="#000" stroke-width="0.35">0.0</text>
<text x="297.5" y="668.6" font-size="7.7" font-weight="bold" text-anchor="middle" transform="rotate(-90 297.5 668.6)" stroke="#000" stroke-width="0.4">Parp-1 relative</text>
<text x="306.5" y="668.6" font-size="7.7" font-weight="bold" text-anchor="middle" transform="rotate(-90 306.5 668.6)" stroke="#000" stroke-width="0.4">mRNA expression</text>
<line x1="326.6" y1="716.3" x2="469" y2="716.3" stroke="#000" stroke-width="1.2"/>
<line x1="349.6" y1="716.3" x2="349.6" y2="720.3" stroke="#000" stroke-width="1.2"/>
<line x1="398" y1="716.3" x2="398" y2="720.3" stroke="#000" stroke-width="1.2"/>
<line x1="446" y1="716.3" x2="446" y2="720.3" stroke="#000" stroke-width="1.2"/>
<rect x="330.3" y="670.4" width="4.8" height="45.9" fill="#ffffff" stroke="#000" stroke-width="1.1"/>
<rect x="338.9" y="671.4" width="4.8" height="44.9" fill="#ffc800" stroke="#000" stroke-width="1.1"/>
<rect x="347.3" y="670.7" width="4.8" height="45.6" fill="#00d020" stroke="#000" stroke-width="1.1"/>
<rect x="355.9" y="670.4" width="4.8" height="45.9" fill="#c030f0" stroke="#000" stroke-width="1.1"/>
<rect x="364.5" y="657.2" width="4.8" height="59.1" fill="#ff1a1a" stroke="#000" stroke-width="1.1"/>
<rect x="378.7" y="703.8" width="4.8" height="12.5" fill="#ffffff" stroke="#000" stroke-width="1.1"/>
<rect x="386.9" y="705.4" width="4.8" height="10.9" fill="#ffc800" stroke="#000" stroke-width="1.1"/>
<rect x="395.6" y="705" width="4.8" height="11.3" fill="#00d020" stroke="#000" stroke-width="1.1"/>
<rect x="403.9" y="694.4" width="4.8" height="21.9" fill="#c030f0" stroke="#000" stroke-width="1.1"/>
<rect x="412.7" y="690.6" width="4.8" height="25.7" fill="#ff1a1a" stroke="#000" stroke-width="1.1"/>
<rect x="426.6" y="701" width="4.8" height="15.3" fill="#ffffff" stroke="#000" stroke-width="1.1"/>
<rect x="435.3" y="698.4" width="4.8" height="17.9" fill="#ffc800" stroke="#000" stroke-width="1.1"/>
<rect x="443.6" y="694.8" width="4.8" height="21.5" fill="#00d020" stroke="#000" stroke-width="1.1"/>
<rect x="452.1" y="693.4" width="4.8" height="22.9" fill="#c030f0" stroke="#000" stroke-width="1.1"/>
<rect x="460.7" y="691.1" width="4.8" height="25.2" fill="#ff1a1a" stroke="#000" stroke-width="1.1"/>
<circle cx="332" cy="670.9" r="2.0" fill="#000"/>
<circle cx="333.4" cy="669.9" r="2.0" fill="#000"/>
<circle cx="332.7" cy="670.2" r="2.0" fill="#000"/>
<circle cx="340.6" cy="671.9" r="2.0" fill="#000"/>
<circle cx="342" cy="670.9" r="2.0" fill="#000"/>
<circle cx="341.3" cy="671.2" r="2.0" fill="#000"/>
<circle cx="349" cy="671.2" r="2.0" fill="#000"/>
<circle cx="350.4" cy="670.2" r="2.0" fill="#000"/>
<circle cx="349.7" cy="670.5" r="2.0" fill="#000"/>
<circle cx="357.6" cy="670.9" r="2.0" fill="#000"/>
<circle cx="359" cy="669.9" r="2.0" fill="#000"/>
<circle cx="358.3" cy="670.2" r="2.0" fill="#000"/>
<circle cx="366.2" cy="657.7" r="2.0" fill="#000"/>
<circle cx="367.6" cy="656.7" r="2.0" fill="#000"/>
<circle cx="366.9" cy="657" r="2.0" fill="#000"/>
<circle cx="380.4" cy="704.3" r="2.0" fill="#000"/>
<circle cx="381.8" cy="703.3" r="2.0" fill="#000"/>
<circle cx="381.1" cy="703.6" r="2.0" fill="#000"/>
<circle cx="388.6" cy="705.9" r="2.0" fill="#000"/>
<circle cx="390" cy="704.9" r="2.0" fill="#000"/>
<circle cx="389.3" cy="705.2" r="2.0" fill="#000"/>
<circle cx="397.3" cy="705.5" r="2.0" fill="#000"/>
<circle cx="398.7" cy="704.5" r="2.0" fill="#000"/>
<circle cx="398" cy="704.8" r="2.0" fill="#000"/>
<circle cx="405.6" cy="694.9" r="2.0" fill="#000"/>
<circle cx="407" cy="693.9" r="2.0" fill="#000"/>
<circle cx="406.3" cy="694.2" r="2.0" fill="#000"/>
<circle cx="414.4" cy="691.1" r="2.0" fill="#000"/>
<circle cx="415.8" cy="690.1" r="2.0" fill="#000"/>
<circle cx="415.1" cy="690.4" r="2.0" fill="#000"/>
<circle cx="428.3" cy="701.5" r="2.0" fill="#000"/>
<circle cx="429.7" cy="700.5" r="2.0" fill="#000"/>
<circle cx="429" cy="700.8" r="2.0" fill="#000"/>
<circle cx="437" cy="698.9" r="2.0" fill="#000"/>
<circle cx="438.4" cy="697.9" r="2.0" fill="#000"/>
<circle cx="437.7" cy="698.2" r="2.0" fill="#000"/>
<circle cx="445.3" cy="695.3" r="2.0" fill="#000"/>
<circle cx="446.7" cy="694.3" r="2.0" fill="#000"/>
<circle cx="446" cy="694.6" r="2.0" fill="#000"/>
<circle cx="453.8" cy="693.9" r="2.0" fill="#000"/>
<circle cx="455.2" cy="692.9" r="2.0" fill="#000"/>
<circle cx="454.5" cy="693.2" r="2.0" fill="#000"/>
<circle cx="462.4" cy="691.6" r="2.0" fill="#000"/>
<circle cx="463.8" cy="690.6" r="2.0" fill="#000"/>
<circle cx="463.1" cy="690.9" r="2.0" fill="#000"/>
<path d="M332.5 634.4V629.5H426.5V634.4" stroke="#000" stroke-width="1.2" fill="none"/>
<text x="379.77" y="627.82" font-size="7.6" font-weight="bold" text-anchor="middle" stroke="#000" stroke-width="0.25" letter-spacing="0.75">***</text>
<path d="M332.5 641.4V636.5H380.5V641.4" stroke="#000" stroke-width="1.2" fill="none"/>
<text x="350.98" y="635.82" font-size="7.6" font-weight="bold" text-anchor="middle" stroke="#000" stroke-width="0.25" letter-spacing="0.75">***</text>
<path d="M332.5 651.6V646.5H366.5V651.6" stroke="#000" stroke-width="1.2" fill="none"/>
<text x="349.77" y="645.82" font-size="7.6" font-weight="bold" text-anchor="middle" stroke="#000" stroke-width="0.25" letter-spacing="0.75">***</text>
<path d="M380.5 677.6V672.5H415.5V677.6" stroke="#000" stroke-width="1.2" fill="none"/>
<text x="398.38" y="666.82" font-size="7.6" font-weight="bold" text-anchor="middle" stroke="#000" stroke-width="0.25" letter-spacing="0.75">***</text>
<path d="M380.5 688V683.5H406.5V688" stroke="#000" stroke-width="1.2" fill="none"/>
<text x="393.98" y="681.82" font-size="7.6" font-weight="bold" text-anchor="middle" stroke="#000" stroke-width="0.25" letter-spacing="0.75">***</text>
<path d="M428.5 657.2V652.5H462.5V657.2" stroke="#000" stroke-width="1.2" fill="none"/>
<text x="445.88" y="651.22" font-size="7.6" font-weight="bold" text-anchor="middle" stroke="#000" stroke-width="0.25" letter-spacing="0.75">***</text>
<path d="M428.5 672.3V667.5H453.5V672.3" stroke="#000" stroke-width="1.2" fill="none"/>
<text x="441.57" y="666.42" font-size="7.6" font-weight="bold" text-anchor="middle" stroke="#000" stroke-width="0.25" letter-spacing="0.75">***</text>
<path d="M428.5 683.4V678.5H446.5V683.4" stroke="#000" stroke-width="1.2" fill="none"/>
<text x="436.27" y="676.42" font-size="7.6" font-weight="bold" text-anchor="middle" stroke="#000" stroke-width="0.25" letter-spacing="0.75">***</text>
<path d="M428.5 694V689.5H438.5V694" stroke="#000" stroke-width="1.2" fill="none"/>
<text x="434.18" y="688.02" font-size="7.6" font-weight="bold" text-anchor="middle" stroke="#000" stroke-width="0.25" letter-spacing="0.75">**</text>
<text x="349.6" y="728.5" font-size="7.1" text-anchor="middle" stroke="#000" stroke-width="0.2">Uninfected</text>
<text x="398" y="728.5" font-size="7.1" font-style="italic" text-anchor="middle" stroke="#000" stroke-width="0.2">Aa</text>
<text x="446" y="728.5" font-size="7.1" font-style="italic" text-anchor="middle" stroke="#000" stroke-width="0.2">Pg</text>
<rect x="490.5" y="625" width="9.6" height="4.8" fill="#ffffff" stroke="#000" stroke-width="1.1"/>
<text x="506.4" y="630.05" font-size="7.65" stroke="#000" stroke-width="0.22">Vehicle</text>
<rect x="490.5" y="638.8" width="9.6" height="4.8" fill="#ffc800" stroke="#000" stroke-width="1.1"/>
<text x="506.4" y="643.85" font-size="7.65" stroke="#000" stroke-width="0.22">78c 1.25 µM</text>
<rect x="490.5" y="651.8" width="9.6" height="4.8" fill="#00d020" stroke="#000" stroke-width="1.1"/>
<text x="506.4" y="656.85" font-size="7.65" stroke="#000" stroke-width="0.22">78c 2.5 µM</text>
<rect x="490.5" y="665.4" width="9.6" height="4.8" fill="#c030f0" stroke="#000" stroke-width="1.1"/>
<text x="506.4" y="670.45" font-size="7.65" stroke="#000" stroke-width="0.22">78c 5 µM</text>
<rect x="490.5" y="678.8" width="9.6" height="4.8" fill="#ff1a1a" stroke="#000" stroke-width="1.1"/>
<text x="506.4" y="683.85" font-size="7.65" stroke="#000" stroke-width="0.22">78c 10 µM</text>
</svg>
</body></html>
